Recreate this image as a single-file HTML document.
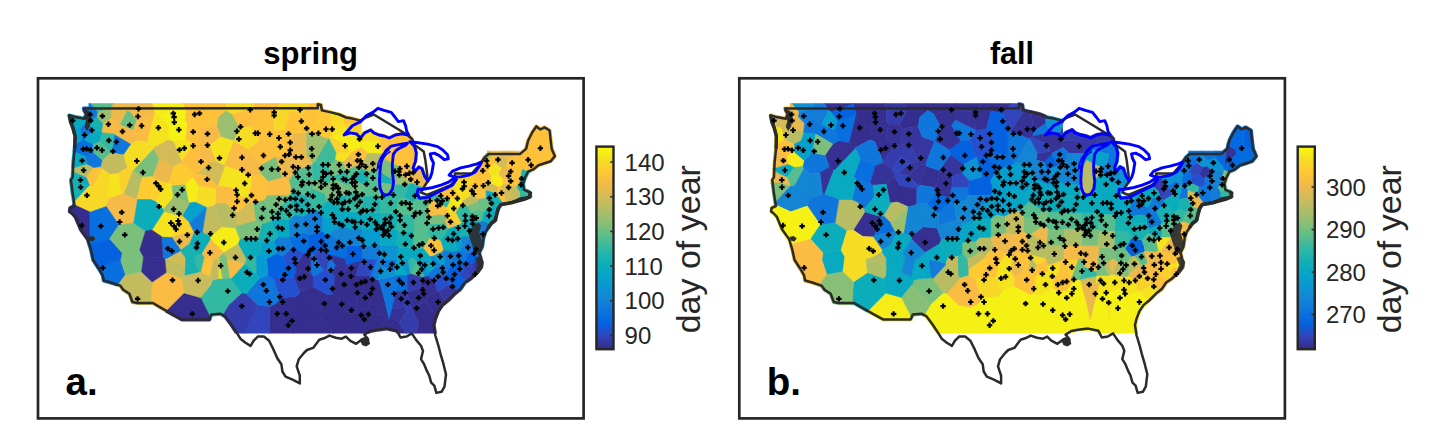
<!DOCTYPE html>
<html><head><meta charset="utf-8"><title>spring / fall</title>
<style>
html,body{margin:0;padding:0;background:#fff;}
body{width:1440px;height:439px;overflow:hidden;position:relative;font-family:"Liberation Sans",sans-serif;}
svg text{font-family:"Liberation Sans",sans-serif;}
</style></head><body>
<svg width="1440" height="439" viewBox="0 0 1440 439" style="position:absolute;left:0;top:0">
<defs><linearGradient id="pg" x1="0" y1="0" x2="0" y2="1"><stop offset="0.0000" stop-color="#f9fb0e"/><stop offset="0.0625" stop-color="#f5de21"/><stop offset="0.1250" stop-color="#fec932"/><stop offset="0.1875" stop-color="#f2b949"/><stop offset="0.2500" stop-color="#d3bb58"/><stop offset="0.3125" stop-color="#b1bd66"/><stop offset="0.3750" stop-color="#8bbf75"/><stop offset="0.4375" stop-color="#5ebe89"/><stop offset="0.5000" stop-color="#33b8a1"/><stop offset="0.5625" stop-color="#13b0b6"/><stop offset="0.6250" stop-color="#06a6c7"/><stop offset="0.6875" stop-color="#0a97d1"/><stop offset="0.7500" stop-color="#1484d4"/><stop offset="0.8125" stop-color="#0c74dd"/><stop offset="0.8750" stop-color="#0462e0"/><stop offset="0.9375" stop-color="#3243b9"/><stop offset="1.0000" stop-color="#352a87"/></linearGradient><clipPath id="usclip"><path d="M88.5,106.4 83.8,106.4 83.6,106.4 83.4,106.4 83.2,106.5 83.0,106.5 82.9,106.6 82.7,106.7 82.5,106.8 82.4,107.0 82.3,107.1 82.2,107.3 82.1,107.4 82.0,107.6 81.9,107.8 81.8,108.0 81.8,108.2 81.8,108.3 81.8,108.5 81.8,108.7 81.9,108.9 82.6,111.5 82.6,111.7 82.7,111.9 82.8,112.1 84.2,114.2 83.3,116.5 75.4,115.0 69.7,113.6 69.5,113.5 69.3,113.5 69.1,113.5 68.9,113.5 68.7,113.6 68.6,113.6 68.4,113.7 68.2,113.8 68.0,113.9 67.9,114.0 67.8,114.1 67.6,114.3 67.5,114.4 67.4,114.6 67.3,114.8 67.3,114.9 67.2,115.1 67.2,115.3 67.2,115.5 67.2,115.7 67.2,115.9 67.3,116.1 70.4,126.3 73.4,136.2 72.8,148.1 71.3,162.4 71.3,162.5 70.7,176.4 69.3,179.0 69.2,179.2 69.1,179.4 69.0,179.6 69.0,179.8 69.0,180.0 69.0,180.2 70.5,192.5 70.5,192.6 72.4,204.8 69.5,206.2 69.3,206.3 69.1,206.4 69.0,206.5 68.8,206.7 68.7,206.8 68.6,207.0 68.5,207.1 68.4,207.3 68.4,207.5 68.3,207.7 67.8,211.2 67.8,211.4 67.8,211.6 67.8,211.8 67.9,212.0 67.9,212.2 68.0,212.4 68.1,212.5 68.2,212.7 68.3,212.8 68.5,213.0 68.6,213.1 71.2,215.0 73.9,218.0 78.9,230.0 78.9,230.2 79.1,230.4 86.1,240.3 89.1,250.2 91.3,260.4 91.4,260.6 91.5,260.8 91.5,260.9 91.6,261.1 97.0,269.2 100.9,276.1 101.8,280.9 101.9,281.1 102.0,281.3 102.0,281.5 102.1,281.6 102.3,281.8 102.4,281.9 102.6,282.1 102.7,282.2 102.9,282.3 103.1,282.4 103.3,282.4 110.4,284.4 119.0,287.3 121.7,290.9 121.8,291.1 122.0,291.2 122.2,291.4 127.8,295.1 130.6,302.7 130.7,302.9 130.8,303.1 130.9,303.2 131.1,303.4 131.2,303.5 131.4,303.7 131.5,303.8 131.7,303.8 131.9,303.9 132.1,304.0 137.2,305.0 137.4,305.0 137.6,305.0 152.4,305.0 157.1,307.8 157.1,307.8 171.5,316.0 171.5,316.0 180.7,321.1 180.9,321.2 181.1,321.3 181.3,321.4 181.5,321.4 181.7,321.4 209.3,321.4 209.5,321.4 209.7,321.4 209.9,321.3 210.1,321.3 210.2,321.2 210.4,321.1 210.6,321.0 210.7,320.8 210.8,320.7 211.0,320.5 211.1,320.4 211.1,320.2 212.8,316.4 219.8,315.7 223.7,317.7 229.5,325.5 234.8,333.5 369.8,333.5 370.8,332.9 376.9,331.7 386.8,330.6 395.7,332.5 396.2,333.5 437.0,333.5 435.7,325.3 436.9,320.0 439.9,312.1 443.7,306.5 449.7,301.5 449.8,301.4 455.9,295.3 462.0,290.2 462.1,290.1 462.3,290.0 462.4,289.8 466.2,283.9 472.0,280.1 472.2,279.9 472.3,279.8 478.4,273.7 478.5,273.6 478.7,273.4 482.8,267.2 482.9,267.0 482.9,266.9 483.0,266.7 483.1,266.5 483.1,266.3 483.1,266.1 483.2,260.8 483.2,260.7 483.2,260.5 483.1,260.3 481.3,252.8 484.0,247.4 484.1,247.2 484.1,247.0 484.2,246.8 485.3,238.7 487.1,233.0 491.1,227.1 493.0,224.3 496.8,221.4 497.0,221.3 497.1,221.1 497.2,221.0 497.3,220.8 497.4,220.7 497.5,220.5 497.5,220.3 497.6,220.1 498.5,214.2 500.4,208.4 501.9,206.3 506.2,205.4 512.3,204.4 512.5,204.3 512.7,204.3 512.9,204.2 520.6,200.4 526.3,199.5 526.4,199.5 530.8,198.5 531.0,198.4 531.2,198.3 531.4,198.2 531.5,198.1 531.7,198.0 531.8,197.9 532.0,197.8 532.1,197.6 532.2,197.4 532.3,197.3 532.3,197.1 532.4,196.9 532.4,196.7 532.4,196.5 532.4,196.3 532.4,196.1 532.3,195.9 531.0,191.4 531.0,191.3 530.9,191.1 530.8,190.9 530.7,190.7 530.5,190.6 530.4,190.5 530.2,190.3 530.0,190.2 529.9,190.2 525.8,188.5 525.1,184.0 526.9,178.4 529.5,173.1 534.0,171.2 534.1,171.2 534.3,171.1 534.4,171.0 539.4,167.1 545.1,165.2 545.1,165.2 551.3,163.1 551.5,163.0 551.7,162.9 551.8,162.8 552.0,162.7 552.1,162.6 552.3,162.5 556.4,157.4 556.5,157.2 556.6,157.0 556.7,156.8 556.7,156.7 556.8,156.5 556.8,156.3 556.8,156.1 556.8,155.9 556.8,155.7 556.7,155.5 556.6,155.3 553.7,148.4 552.7,140.5 551.6,130.3 551.6,130.1 551.5,129.9 551.4,129.7 551.3,129.5 551.2,129.3 551.1,129.2 551.0,129.0 550.8,128.9 550.6,128.8 545.5,125.7 545.4,125.6 545.2,125.5 545.0,125.5 544.8,125.4 544.6,125.4 544.4,125.4 544.2,125.4 544.0,125.5 543.8,125.5 543.6,125.6 540.6,127.1 537.5,124.8 537.3,124.7 537.2,124.6 537.0,124.5 536.8,124.5 536.6,124.4 536.4,124.4 536.3,124.4 536.1,124.4 535.9,124.4 535.7,124.5 535.5,124.6 535.3,124.6 535.2,124.7 535.0,124.9 534.9,125.0 534.8,125.1 534.6,125.3 530.5,131.4 530.4,131.6 526.3,139.8 526.2,140.0 526.2,140.2 524.3,147.8 520.8,150.7 487.0,150.7 487.0,152.5 487.0,152.5 482.9,156.6 482.7,156.8 482.6,156.9 478.5,163.5 473.9,170.5 468.0,174.2 460.2,175.7 460.0,175.8 459.9,175.8 455.8,177.4 455.6,177.5 455.4,177.6 455.3,177.7 455.1,177.9 455.0,178.0 454.9,178.1 451.1,183.5 443.3,187.4 435.1,191.5 427.2,195.4 420.7,196.1 419.5,194.2 421.2,192.0 421.3,191.9 424.5,187.2 429.2,182.4 429.3,182.3 429.5,182.1 429.6,181.9 429.6,181.8 429.7,181.6 429.8,181.4 429.8,181.2 429.8,181.0 429.8,180.8 429.8,180.6 429.7,180.4 429.6,180.2 429.6,180.1 429.5,179.9 426.3,175.2 423.9,168.1 423.8,167.9 423.7,167.7 423.6,167.6 423.5,167.4 423.4,167.3 423.3,167.1 423.1,167.0 422.9,166.9 419.7,165.2 419.6,165.1 419.4,165.1 419.2,165.0 419.0,165.0 418.8,165.0 418.6,165.0 418.4,165.0 418.2,165.1 418.0,165.2 417.8,165.2 417.7,165.3 417.5,165.5 417.4,165.6 417.2,165.7 415.5,167.9 415.3,167.6 417.4,162.0 417.4,161.8 417.5,161.7 417.5,161.5 418.3,153.3 418.3,153.1 418.3,152.8 418.2,152.6 416.6,146.1 416.6,145.9 416.5,145.7 416.4,145.5 416.3,145.4 416.1,145.2 412.5,141.5 413.5,140.3 413.6,140.1 413.8,140.0 413.8,139.8 413.9,139.6 414.0,139.4 414.0,139.2 414.0,139.0 414.0,138.8 414.0,138.6 413.9,138.4 413.8,138.2 413.8,138.0 413.6,137.9 413.5,137.7 410.1,133.7 410.0,133.6 409.8,133.4 409.7,133.3 409.5,133.2 409.3,133.1 409.1,133.1 408.9,133.0 401.8,131.9 401.6,131.9 401.4,131.9 401.2,131.9 395.0,133.0 394.8,133.1 394.6,133.1 394.4,133.2 389.1,135.8 384.8,134.1 384.7,134.1 384.5,134.0 379.5,133.1 374.9,131.2 372.1,128.5 371.9,128.4 371.8,128.3 371.6,128.2 371.4,128.1 371.2,128.1 371.0,128.0 370.8,128.0 370.6,128.0 370.4,128.0 370.2,128.1 370.0,128.1 369.8,128.2 363.7,131.1 363.6,131.2 363.4,131.3 363.3,131.4 363.2,131.5 363.0,131.6 361.8,133.1 361.8,132.8 361.5,125.9 362.5,121.0 362.5,120.8 362.5,120.6 362.5,120.4 362.5,120.2 362.4,120.0 362.4,119.9 362.3,119.7 362.2,119.5 362.1,119.4 362.0,119.2 361.8,119.1 361.7,119.0 361.5,118.9 361.3,118.8 361.2,118.7 361.0,118.7 352.8,116.7 352.6,116.6 346.7,115.6 340.1,112.7 340.0,112.6 339.8,112.6 331.6,110.5 331.5,110.4 323.6,108.7 322.9,104.6 322.8,104.5 322.8,104.3 322.7,104.1 322.6,103.9 322.5,103.8 322.4,103.6 322.2,103.5 322.1,103.4 321.9,103.3 321.8,103.2 321.6,103.1 321.4,103.1 318.3,102.3 318.1,102.2 317.9,102.2 317.7,102.2 317.5,102.2 317.3,102.3 317.2,102.3 317.0,102.4 316.8,102.5 316.7,102.6 316.5,102.7 316.4,102.8 316.2,103.0 316.1,103.1 316.1,103.2 88.5,103.2Z"/></clipPath></defs>
<rect x="0" y="0" width="1440" height="439" fill="#fff"/>
<g><g clip-path="url(#usclip)"><path d="M97.9,112.4 110.7,108.8 118.4,95.2 118.4,95.0 82.9,95.0ZM100.0,140.7 92.5,144.4 92.9,152.6 102.5,160.7 110.8,152.9ZM295.2,170.3 288.6,180.9 290.2,184.9 312.7,179.3 312.7,163.8ZM346.0,169.4 345.7,170.0 351.1,180.6 355.5,179.2 361.9,168.5 361.0,166.8 356.7,165.2ZM380.2,169.3 368.2,171.6 368.2,182.3 377.9,185.3 379.5,182.7 381.2,172.3ZM312.7,179.3 290.2,184.9 290.8,192.7 306.7,196.3 312.9,188.8 312.9,179.8ZM363.7,196.4 379.5,196.4 377.9,185.3 368.2,182.3 364.0,186.2 362.7,195.2ZM396.7,212.8 398.5,214.8 413.0,214.8 413.0,201.2 404.0,197.4 398.5,198.6ZM429.6,192.3 429.5,191.8 413.0,201.2 413.0,214.8 414.0,215.7 427.0,214.1 431.0,197.9ZM414.0,215.7 414.0,230.3 427.7,232.0 429.4,228.9 430.7,223.9 429.3,216.7 427.0,214.1ZM430.0,237.9 427.7,232.0 414.0,230.3 413.0,231.2 413.0,247.6 414.2,248.7 423.7,248.7 429.2,239.7ZM470.3,216.5 470.5,218.0 479.0,222.3 482.2,221.1 483.7,212.2 478.6,208.4 471.0,212.4ZM422.8,277.4 424.3,276.6 417.9,262.8 416.6,262.5 410.8,274.0Z" fill="#55bd8e" stroke="#55bd8e" stroke-width="0.6"/><path d="M152.2,95.0 118.4,95.0 118.4,95.2 127.2,110.7 130.5,112.3 152.2,103.7ZM120.4,124.4 127.2,110.7 118.4,95.2 110.7,108.8 111.4,118.3 119.4,124.7ZM169.1,182.8 174.4,165.7 159.0,158.8 152.3,176.7 155.2,179.3 166.5,183.0ZM306.6,154.7 306.6,132.2 291.6,133.3 289.3,152.2ZM275.5,157.0 281.4,177.6 288.6,180.9 295.2,170.3 286.0,155.1ZM286.0,155.1 295.2,170.3 312.7,163.8 313.1,163.1 306.6,154.7 289.3,152.2ZM350.2,154.4 342.6,162.1 346.0,169.4 356.7,165.2ZM410.7,183.0 429.7,190.3 439.6,176.3 439.8,175.9 441.1,170.0 422.3,167.2 415.1,168.9 410.2,181.2ZM501.4,167.6 498.1,174.2 502.5,178.6 510.5,170.7 505.7,166.8ZM500.4,101.1 500.5,154.0 506.9,160.9 513.7,157.3 515.0,131.5ZM194.7,232.1 194.0,231.6 173.4,235.4 171.6,236.9 180.7,250.0 189.5,244.1Z" fill="#ecb94c" stroke="#ecb94c" stroke-width="0.6"/><path d="M182.9,95.0 152.2,95.0 152.2,103.7 155.0,114.3 160.2,116.3 182.9,104.4ZM358.7,133.3 356.6,133.7 346.1,144.2 348.9,151.8 350.2,152.9 361.5,147.3 361.5,140.6ZM361.5,147.3 367.7,153.4 383.2,153.4 379.7,140.6 361.5,140.6ZM346.1,144.2 356.6,133.7 349.8,132.4 331.0,136.5 330.7,137.1ZM497.6,187.0 501.5,185.8 503.6,184.4 502.5,178.6 498.1,174.2 491.2,175.6 490.0,183.2ZM189.7,202.9 196.2,202.1 198.8,185.6 193.3,176.9 184.9,184.3 188.3,201.5ZM223.8,252.7 238.5,243.8 240.1,239.4 235.7,228.0 222.0,226.8 209.7,236.4 210.3,239.2ZM460.0,206.2 462.8,203.4 462.8,200.2 461.1,198.2 458.5,196.1 450.7,198.6 449.7,200.5 449.7,200.9Z" fill="#f5ec18" stroke="#f5ec18" stroke-width="0.6"/><path d="M205.0,111.8 204.5,95.0 182.9,95.0 182.9,104.4 185.3,110.0ZM184.8,120.3 187.2,123.3 198.0,125.3 205.0,111.8 205.0,111.8 185.3,110.0ZM200.9,128.7 198.0,125.3 187.2,123.3 185.0,138.8 194.1,144.7 199.7,144.7 199.8,144.6ZM93.1,186.3 102.6,169.1 101.2,166.6 92.8,167.6 86.2,177.0 89.6,186.0ZM218.6,117.0 226.6,110.6 226.6,95.0 204.5,95.0 205.0,111.8 205.0,111.8ZM216.9,126.3 218.6,117.0 205.0,111.8 198.0,125.3 200.9,128.7ZM274.6,129.7 254.8,119.9 250.0,125.8 259.3,141.2 268.6,140.4 275.0,130.3ZM272.2,112.3 254.8,109.4 254.8,119.9 274.6,129.7ZM302.2,113.1 307.5,131.6 309.0,131.4 328.6,101.9 330.0,95.0 317.3,95.0ZM291.6,133.3 285.1,129.5 275.0,130.3 268.6,140.4 275.1,156.8 275.5,157.0 286.0,155.1 289.3,152.2ZM343.8,123.9 344.1,124.1 364.2,122.3 382.9,95.0 343.8,95.0ZM383.2,153.4 383.9,153.9 390.7,149.9 395.3,143.7 395.3,95.0 384.8,95.0 379.7,140.6ZM395.3,143.7 414.9,143.7 454.2,99.7 455.2,95.0 395.3,95.0ZM361.0,166.8 367.7,153.4 361.5,147.3 350.2,152.9 350.2,154.4 356.7,165.2ZM399.4,166.7 405.1,163.9 407.8,154.2 390.7,149.9 383.9,153.9 385.1,159.6ZM414.9,143.7 395.3,143.7 390.7,149.9 407.8,154.2 412.3,149.7ZM407.8,154.2 405.1,163.9 415.1,168.9 422.3,167.2 412.3,149.7ZM448.6,160.1 454.1,149.7 454.2,149.1 454.2,99.7 414.9,143.7 412.3,149.7 422.3,167.2 441.1,170.0ZM488.5,171.9 489.6,167.4 483.1,160.7 454.2,149.1 454.1,149.7 469.2,166.9 482.4,172.3ZM482.4,172.3 469.2,166.9 474.0,181.3 479.6,184.3 480.6,184.4 480.7,184.4ZM534.4,149.6 542.5,147.3 542.4,95.0 498.4,95.0 500.4,101.1 515.0,131.5 525.6,144.2ZM542.5,147.3 570.0,155.2 570.0,95.0 542.4,95.0ZM542.5,147.3 534.4,149.6 535.0,154.3 551.2,181.3 563.5,189.8 570.0,193.2 570.0,155.2ZM522.7,169.5 551.2,181.3 535.0,154.3 522.8,166.6 522.5,167.3ZM535.0,154.3 534.4,149.6 525.6,144.2 522.8,166.6ZM490.8,158.0 483.1,160.7 489.6,167.4 495.3,163.0 495.3,161.3ZM513.7,157.3 506.9,160.9 505.7,166.8 510.5,170.7 514.5,171.8 522.2,169.9 522.7,169.5 522.5,167.3ZM485.8,185.5 490.0,183.2 491.2,175.6 488.5,171.9 482.4,172.3 480.7,184.4ZM509.7,185.2 511.5,186.9 516.3,186.9 519.2,184.9 522.2,169.9 514.5,171.8ZM502.5,178.6 503.6,184.4 509.7,185.2 514.5,171.8 510.5,170.7ZM472.8,182.4 465.4,186.3 465.9,187.5 471.3,194.3ZM458.5,196.1 457.1,191.0 439.8,175.9 439.6,176.3 450.7,198.6ZM450.7,198.6 439.6,176.3 429.7,190.3 429.5,191.8 429.6,192.3 449.7,200.5ZM480.6,184.4 477.6,198.4 478.5,199.3 485.8,198.1 486.1,197.6 486.1,190.0 485.8,185.5 480.7,184.4ZM522.8,166.6 525.6,144.2 515.0,131.5 513.7,157.3 522.5,167.3ZM500.5,154.0 500.4,101.1 498.4,95.0 479.9,95.0 490.8,158.0 495.3,161.3ZM237.1,213.0 250.6,201.7 248.3,198.0 235.2,194.2 225.9,203.6ZM263.9,200.7 267.5,195.4 266.6,187.2 250.6,187.2 249.4,189.4 248.3,198.0 250.6,201.7 253.0,202.7ZM268.0,181.0 260.6,173.1 251.3,176.5 250.6,187.2 266.6,187.2ZM471.5,194.5 479.6,184.3 474.0,181.3 472.8,182.4 471.3,194.3ZM423.7,248.7 429.8,256.6 430.4,256.7 433.0,256.2 438.7,253.3 429.2,239.7ZM471.5,194.7 477.6,198.4 480.6,184.4 479.6,184.3 471.5,194.5ZM496.4,193.1 496.3,194.5 508.9,211.3 508.9,209.2 501.5,185.8 497.6,187.0ZM446.6,207.1 435.8,201.8 439.8,214.8 445.6,216.0 448.7,212.3ZM438.7,253.3 442.1,252.1 443.5,250.4 443.0,246.7 440.6,240.1 430.0,237.9 429.2,239.7ZM200.6,272.3 210.0,277.0 213.4,260.3 204.1,257.4Z" fill="#fec13a" stroke="#fec13a" stroke-width="0.6"/><path d="M80.3,128.2 87.0,122.3 71.1,95.0 55.0,95.0 55.0,121.3ZM102.6,132.7 102.2,132.1 93.1,129.4 84.0,140.3 92.5,144.4 100.0,140.7ZM85.9,155.9 68.5,149.2 55.0,152.5 55.0,166.5 70.9,169.2 87.0,164.5ZM89.6,186.0 86.2,177.0 78.1,173.5 80.0,183.1 88.7,186.6ZM486.1,190.0 486.1,197.6 496.3,194.5 496.4,193.1ZM273.5,217.7 271.1,221.1 278.1,237.4 289.0,237.4 289.4,236.9 289.4,219.7ZM342.9,210.7 330.9,217.7 339.4,227.1 345.5,227.1 347.4,211.8 346.4,210.7ZM345.5,227.1 347.3,229.2 362.8,229.2 362.8,229.2 362.8,212.8 361.8,211.8 347.4,211.8ZM380.2,245.6 380.2,245.6 396.7,245.6 398.5,231.2 396.7,229.2 380.2,229.2 380.2,229.2ZM414.2,248.7 413.0,247.6 398.5,247.6 397.0,259.6 400.6,260.9 407.9,260.9 412.8,257.9ZM416.6,262.5 417.9,262.8 427.1,260.5 429.8,256.6 423.7,248.7 414.2,248.7 412.8,257.9ZM463.3,223.0 472.4,236.4 473.0,236.6 474.4,236.1 479.0,222.3 470.5,218.0ZM407.3,275.4 400.6,260.9 397.0,259.6 396.6,259.9 394.5,271.8 395.5,275.4ZM435.4,267.5 430.4,256.7 429.8,256.6 427.1,260.5 427.0,274.5Z" fill="#07aac1" stroke="#07aac1" stroke-width="0.6"/><path d="M68.5,149.2 82.5,140.3 80.3,128.2 55.0,121.3 55.0,152.5ZM182.1,215.8 189.5,223.1 206.4,207.7 206.7,206.8 196.2,202.1 189.7,202.9ZM330.9,217.7 322.2,216.4 322.2,231.5 325.2,234.2 329.7,233.6 339.4,227.1ZM260.7,254.2 266.4,259.1 276.9,253.8 274.8,240.7 260.7,242.5ZM454.6,238.3 454.4,240.3 456.7,250.4 459.9,251.4 460.1,251.4 461.2,248.8 461.7,236.9 460.6,236.5ZM438.7,253.3 433.0,256.2 441.5,266.0 445.7,262.6 442.1,252.1Z" fill="#06a0cd" stroke="#06a0cd" stroke-width="0.6"/><path d="M87.0,122.3 88.1,122.5 97.2,116.8 97.9,112.4 82.9,95.0 71.1,95.0ZM87.0,122.3 80.3,128.2 82.5,140.3 84.0,140.3 93.1,129.4 88.1,122.5ZM123.7,155.1 131.4,144.1 114.4,134.0 111.5,152.8ZM85.9,155.9 87.0,164.5 92.8,167.6 101.2,166.6 102.5,160.7 92.9,152.6ZM161.4,236.5 162.8,257.7 164.9,259.7 167.6,258.5 180.4,251.6 180.7,250.0 171.6,236.9ZM325.2,250.2 326.6,250.9 342.4,243.5 329.7,233.6 325.2,234.2ZM464.6,264.9 465.5,264.2 467.2,253.2 460.1,251.4 459.9,251.4 458.4,263.0ZM396.6,259.9 381.8,259.9 383.0,267.1 394.5,271.8ZM529.4,256.7 474.4,236.1 473.0,236.6 471.3,252.7 478.4,256.7ZM458.4,263.0 459.9,251.4 456.7,250.4 452.8,251.5 451.0,263.0 456.9,264.0ZM433.7,279.7 442.7,274.9 440.7,267.8 435.4,267.5 427.0,274.5 426.5,275.9ZM273.6,278.4 267.6,275.6 259.5,278.0 246.0,293.9 257.4,305.3 269.4,306.9 276.2,304.2 280.8,298.2ZM323.8,270.2 313.4,253.7 310.7,253.7 310.6,273.0 313.5,277.0ZM332.5,273.3 335.7,264.8 329.3,257.2 326.6,270.0ZM378.1,279.4 377.8,279.7 387.0,295.7 395.1,291.2 395.1,276.0Z" fill="#0f77db" stroke="#0f77db" stroke-width="0.6"/><path d="M103.5,123.5 97.2,116.8 88.1,122.5 93.1,129.4 102.2,132.1ZM355.5,179.2 364.0,186.2 368.2,182.3 368.2,171.6 361.9,168.5ZM379.5,182.7 393.8,184.8 393.8,180.2 381.2,172.3ZM522.7,169.5 522.2,169.9 519.2,184.9 536.3,188.3 563.5,189.8 551.2,181.3ZM72.6,204.1 88.7,186.6 80.0,183.1 55.0,183.1 55.0,204.1ZM80.0,183.1 78.1,173.5 70.9,169.2 55.0,166.5 55.0,183.1ZM189.5,244.1 180.7,250.0 180.4,251.6 185.0,258.0 195.5,256.4 199.6,253.7ZM184.9,266.1 184.3,276.1 199.8,272.3 195.6,262.4 185.0,265.1ZM306.7,196.3 290.8,192.7 289.0,195.4 288.8,198.0 295.3,215.3 303.6,216.8 313.9,210.6ZM260.7,242.5 274.8,240.7 278.1,237.4 271.1,221.1 261.5,224.0 257.6,239.4ZM404.0,197.4 413.0,201.2 429.5,191.8 429.7,190.3 410.7,183.0 409.2,184.4ZM340.2,195.4 327.0,201.5 327.0,201.5 342.9,210.7 346.4,210.7 346.4,195.4ZM396.7,229.2 398.5,214.8 396.7,212.8 380.2,212.8 380.2,212.8 380.2,229.2ZM459.0,224.9 460.6,236.5 461.7,236.9 470.7,236.9 472.4,236.4 463.3,223.0 460.9,223.0 460.0,223.8ZM396.7,245.6 398.5,247.6 413.0,247.6 413.0,231.2 398.5,231.2ZM519.2,184.9 516.3,186.9 519.5,191.7 536.3,188.3ZM496.3,194.5 486.1,197.6 485.8,198.1 491.5,207.5 509.1,211.9 508.9,211.3ZM195.6,262.4 195.5,256.4 185.0,258.0 185.0,265.1Z" fill="#18b1b2" stroke="#18b1b2" stroke-width="0.6"/><path d="M111.4,118.3 110.7,108.8 97.9,112.4 97.2,116.8 103.5,123.5ZM233.4,141.0 234.0,140.8 240.1,128.6 232.3,113.9 226.6,110.6 218.6,117.0 216.9,126.3 221.1,136.9ZM314.9,162.6 328.7,138.5 309.0,131.4 307.5,131.6 306.6,132.2 306.6,154.7 313.1,163.1ZM393.8,184.8 393.8,184.9 409.2,184.4 410.7,183.0 410.2,181.2 399.4,173.1 393.8,180.2ZM173.4,196.5 163.0,209.0 163.6,211.7 179.1,216.4 182.1,215.8 189.7,202.9 188.3,201.5Z" fill="#9bbf6f" stroke="#9bbf6f" stroke-width="0.6"/><path d="M119.4,124.7 111.4,118.3 103.5,123.5 102.2,132.1 102.6,132.7 114.4,134.0ZM114.4,134.0 131.4,144.1 137.4,140.6 133.4,129.8 120.4,124.4 119.4,124.7 114.4,134.0ZM155.0,114.3 152.2,103.7 130.5,112.3 136.6,121.0 154.3,115.1ZM216.9,126.3 200.9,128.7 199.8,144.6 209.9,145.4 221.1,136.9ZM216.9,161.8 209.9,145.4 199.8,144.6 199.7,144.7 199.7,156.4 208.2,163.0ZM237.9,170.7 251.3,176.5 260.6,173.1 262.4,163.9 249.2,154.4 237.7,170.4ZM410.2,181.2 415.1,168.9 405.1,163.9 399.4,166.7 399.4,173.1ZM137.6,199.5 137.0,198.7 123.6,193.8 121.2,193.8 108.5,198.1 105.9,206.1 119.0,224.9 133.7,223.1ZM204.1,257.4 213.4,260.3 218.9,257.2 218.9,257.2 223.7,253.2 223.8,252.7 210.3,239.2 201.5,253.5ZM231.5,278.8 244.8,264.2 244.8,263.3 226.8,258.9 229.5,277.9Z" fill="#f6ba46" stroke="#f6ba46" stroke-width="0.6"/><path d="M136.6,121.0 130.5,112.3 127.2,110.7 120.4,124.4 133.4,129.8ZM261.5,224.0 271.1,221.1 273.5,217.7 273.2,213.6 263.9,200.7 253.0,202.7 255.5,220.3ZM347.3,185.8 348.1,193.4 362.7,195.2 364.0,186.2 355.5,179.2 351.1,180.6ZM483.7,212.2 491.5,207.5 485.8,198.1 478.5,199.3 477.8,201.4 478.6,208.4Z" fill="#6bbf83" stroke="#6bbf83" stroke-width="0.6"/><path d="M154.3,115.1 136.6,121.0 133.4,129.8 137.4,140.6 147.5,142.4ZM224.2,165.2 224.9,166.1 237.7,170.4 249.2,154.4 248.3,149.4 234.0,140.8 233.4,141.0ZM215.6,188.3 215.6,203.6 225.9,203.6 235.2,194.2 233.3,187.6 217.8,185.1 217.0,185.8ZM288.6,180.9 281.4,177.6 268.0,181.0 266.6,187.2 267.5,195.4 289.0,195.4 290.8,192.7 290.2,184.9ZM427.0,214.1 429.3,216.7 439.8,214.8 435.8,201.8 431.0,197.9ZM445.2,223.1 447.8,229.0 459.0,224.9 460.0,223.8 445.6,217.1ZM152.2,281.9 149.3,328.3 184.4,293.1 182.3,278.3 166.1,272.6Z" fill="#fabc42" stroke="#fabc42" stroke-width="0.6"/><path d="M168.6,140.0 169.4,125.5 160.2,116.3 155.0,114.3 154.3,115.1 147.5,142.4 153.9,147.7ZM185.0,138.8 173.3,141.5 181.5,161.2 194.1,144.7ZM224.2,165.2 233.4,141.0 221.1,136.9 209.9,145.4 216.9,161.8 220.1,163.9ZM236.4,182.2 237.9,170.7 237.7,170.4 224.9,166.1 217.8,185.1 233.3,187.6ZM249.4,189.4 250.6,187.2 251.3,176.5 237.9,170.7 236.4,182.2ZM344.1,124.1 343.8,123.9 332.3,131.5 331.0,136.5 349.8,132.4ZM350.2,152.9 348.9,151.8 336.0,152.8 334.8,160.1 342.6,162.1 350.2,154.4ZM498.1,174.2 501.4,167.6 495.3,163.0 489.6,167.4 488.5,171.9 491.2,175.6ZM448.6,160.1 441.1,170.0 439.8,175.9 457.1,191.0 464.9,186.1ZM173.4,235.4 179.1,216.4 163.6,211.7 151.9,230.1 161.4,236.5 171.6,236.9ZM172.0,185.3 169.1,182.8 166.5,183.0 155.8,201.8 163.0,209.0 173.4,196.5ZM108.5,198.1 121.2,193.8 118.6,172.9 109.3,173.9 107.7,196.8ZM235.2,194.2 248.3,198.0 249.4,189.4 236.4,182.2 233.3,187.6ZM455.5,212.3 457.8,210.0 460.0,206.2 449.7,200.9 446.6,207.1 448.7,212.3ZM461.1,198.2 465.9,187.5 465.4,186.3 464.9,186.1 457.1,191.0 458.5,196.1Z" fill="#f5e31e" stroke="#f5e31e" stroke-width="0.6"/><path d="M182.9,104.4 160.2,116.3 169.4,125.5 184.8,120.3 185.3,110.0ZM187.2,123.3 184.8,120.3 169.4,125.5 168.6,140.0 173.3,141.5 185.0,138.8Z" fill="#f6f115" stroke="#f6f115" stroke-width="0.6"/><path d="M111.5,152.8 114.4,134.0 114.4,134.0 102.6,132.7 100.0,140.7 110.8,152.9ZM327.6,166.1 314.9,162.6 313.1,163.1 312.7,163.8 312.7,179.3 312.9,179.8 330.1,183.2 333.5,178.6 333.5,175.7ZM333.5,178.6 347.3,185.8 351.1,180.6 345.7,170.0 333.5,175.7ZM563.5,189.8 536.3,188.3 519.5,191.7 520.5,225.4 532.1,242.5 548.3,259.9 570.0,273.3 570.0,193.2ZM199.6,253.7 195.5,256.4 195.6,262.4 199.8,272.3 200.6,272.3 204.1,257.4 201.5,253.5ZM288.8,198.0 273.2,213.6 273.5,217.7 289.4,219.7 295.3,215.3ZM325.1,193.7 312.9,188.8 306.7,196.3 313.9,210.6 318.5,211.2 327.0,201.5 327.0,201.5ZM392.7,194.2 398.5,198.6 404.0,197.4 409.2,184.4 393.8,184.9ZM449.7,200.5 429.6,192.3 431.0,197.9 435.8,201.8 446.6,207.1 449.7,200.9ZM346.4,210.7 347.4,211.8 361.8,211.8 363.7,196.4 362.7,195.2 348.1,193.4 346.4,195.4ZM380.2,212.8 396.7,212.8 398.5,198.6 392.7,194.2 380.2,197.0ZM460.9,223.0 463.3,223.0 470.5,218.0 470.3,216.5 457.8,210.0 455.5,212.3ZM413.0,231.2 414.0,230.3 414.0,215.7 413.0,214.8 398.5,214.8 396.7,229.2 398.5,231.2ZM430.7,223.9 429.4,228.9 447.4,230.4 447.8,229.0 445.2,223.1ZM460.0,206.2 457.8,210.0 470.3,216.5 471.0,212.4 467.5,206.2 462.8,203.4ZM440.6,240.1 447.4,232.4 447.4,230.4 429.4,228.9 427.7,232.0 430.0,237.9ZM200.4,297.5 215.5,327.7 229.1,305.1 210.8,284.8ZM218.9,278.6 212.5,279.9 210.8,284.8 229.1,305.1 241.8,293.6 231.5,278.8 229.5,277.9 222.7,278.3ZM246.4,258.6 244.8,263.3 244.8,264.2 256.7,274.8 256.1,256.2ZM407.9,260.9 410.1,274.1 410.8,274.0 416.6,262.5 412.8,257.9Z" fill="#33b8a1" stroke="#33b8a1" stroke-width="0.6"/><path d="M92.5,144.4 84.0,140.3 82.5,140.3 68.5,149.2 85.9,155.9 92.9,152.6ZM89.5,244.5 109.4,239.2 119.0,224.9 105.9,206.1 89.4,211.8ZM305.5,232.3 289.4,236.9 289.0,237.4 292.5,247.6 304.2,253.5 308.8,252.7 308.8,234.8ZM345.9,256.8 347.3,245.6 345.5,243.5 342.4,243.5 326.6,250.9 329.3,254.9 344.5,258.9ZM125.5,274.8 120.5,259.8 55.0,282.7 55.0,340.0 78.0,340.0ZM395.1,291.2 407.0,292.5 407.4,292.0 407.4,275.4 407.3,275.4 395.5,275.4 395.1,276.0Z" fill="#076fdf" stroke="#076fdf" stroke-width="0.6"/><path d="M92.8,167.6 87.0,164.5 70.9,169.2 78.1,173.5 86.2,177.0ZM368.2,171.6 380.2,169.3 385.1,159.6 383.9,153.9 383.2,153.4 367.7,153.4 361.0,166.8 361.9,168.5ZM479.9,95.0 455.2,95.0 454.2,99.7 454.2,149.1 483.1,160.7 490.8,158.0ZM123.6,193.8 137.0,198.7 142.4,177.2 133.7,170.1 132.6,169.9ZM237.1,213.0 225.9,203.6 215.6,203.6 213.9,205.2 222.0,226.8 235.7,228.0 237.1,225.5Z" fill="#b8bd63" stroke="#b8bd63" stroke-width="0.6"/><path d="M102.5,160.7 101.2,166.6 102.6,169.1 109.3,173.9 118.6,172.9 127.9,167.2 123.7,155.1 111.5,152.8 110.8,152.9ZM222.0,226.8 213.9,205.2 206.7,206.8 206.4,207.7 202.3,232.4 209.7,236.4ZM226.8,258.9 244.8,263.3 246.4,258.6 238.5,243.8 223.8,252.7 223.7,253.2ZM516.3,186.9 511.5,186.9 508.9,209.2 508.9,211.3 509.1,211.9 520.5,225.4 519.5,191.7ZM467.5,206.2 477.8,201.4 478.5,199.3 477.6,198.4 471.5,194.7 462.8,200.2 462.8,203.4ZM141.6,271.8 125.5,274.8 78.0,340.0 144.1,340.0 149.3,328.3 152.2,281.9ZM167.6,258.5 164.9,259.7 166.1,272.6 182.3,278.3 184.3,276.1 184.9,266.1ZM213.4,260.3 210.0,277.0 212.5,279.9 218.9,278.6 218.9,257.2Z" fill="#c3bc5f" stroke="#c3bc5f" stroke-width="0.6"/><path d="M107.7,196.8 109.3,173.9 102.6,169.1 93.1,186.3ZM283.0,99.3 289.7,111.3 302.2,113.1 317.3,95.0 283.0,95.0ZM289.7,111.3 283.0,99.3 272.2,112.3 274.6,129.7 275.0,130.3 285.1,129.5ZM72.6,204.1 89.4,211.8 105.9,206.1 108.5,198.1 107.7,196.8 93.1,186.3 89.6,186.0 88.7,186.6Z" fill="#f7d826" stroke="#f7d826" stroke-width="0.6"/><path d="M147.5,142.4 137.4,140.6 131.4,144.1 123.7,155.1 127.9,167.2 132.6,169.9 133.7,170.1 154.0,148.8 153.9,147.7ZM226.6,110.6 232.3,113.9 254.3,108.5 254.3,95.0 226.6,95.0ZM248.3,149.4 259.3,141.2 250.0,125.8 240.1,128.6 234.0,140.8ZM328.6,101.9 332.3,131.5 343.8,123.9 343.8,95.0 330.0,95.0ZM379.7,140.6 384.8,95.0 382.9,95.0 364.2,122.3 358.7,133.3 361.5,140.6ZM206.7,206.8 213.9,205.2 215.6,203.6 215.6,188.3 198.8,185.6 196.2,202.1ZM465.9,187.5 461.1,198.2 462.8,200.2 471.5,194.7 471.5,194.5 471.3,194.3ZM218.9,257.2 218.9,278.6 222.7,278.3 218.9,257.2Z" fill="#f6dc23" stroke="#f6dc23" stroke-width="0.6"/><path d="M133.7,170.1 142.4,177.2 152.3,176.7 159.0,158.8 154.0,148.8ZM275.1,156.8 262.4,163.9 260.6,173.1 268.0,181.0 281.4,177.6 275.5,157.0ZM342.6,162.1 334.8,160.1 327.6,166.1 333.5,175.7 345.7,170.0 346.0,169.4ZM393.8,180.2 399.4,173.1 399.4,166.7 385.1,159.6 380.2,169.3 381.2,172.3ZM119.0,224.9 109.4,239.2 121.7,253.1 139.8,250.0 145.6,231.1 133.7,223.1ZM184.9,184.3 172.0,185.3 173.4,196.5 188.3,201.5ZM222.7,278.3 229.5,277.9 226.8,258.9 223.7,253.2 218.9,257.2ZM261.5,224.0 255.5,220.3 237.1,225.5 235.7,228.0 240.1,239.4 257.6,239.4ZM288.8,198.0 289.0,195.4 267.5,195.4 263.9,200.7 273.2,213.6ZM340.2,195.4 330.1,183.6 325.1,193.7 327.0,201.5ZM312.9,179.8 312.9,188.8 325.1,193.7 330.1,183.6 330.1,183.2ZM330.1,183.2 330.1,183.6 340.2,195.4 346.4,195.4 348.1,193.4 347.3,185.8 333.5,178.6ZM377.9,185.3 379.5,196.4 380.2,197.0 392.7,194.2 393.8,184.9 393.8,184.8 379.5,182.7ZM478.6,208.4 477.8,201.4 467.5,206.2 471.0,212.4ZM445.6,216.0 439.8,214.8 429.3,216.7 430.7,223.9 445.2,223.1 445.6,217.1ZM120.5,259.8 125.5,274.8 141.6,271.8 143.6,257.1 139.8,250.0 121.7,253.1Z" fill="#7abf7c" stroke="#7abf7c" stroke-width="0.6"/><path d="M181.5,161.2 173.3,141.5 168.6,140.0 153.9,147.7 154.0,148.8 159.0,158.8 174.4,165.7 181.3,163.3ZM220.1,163.9 216.9,161.8 208.2,163.0 196.4,173.7 206.6,175.4ZM217.0,185.8 217.8,185.1 224.9,166.1 224.2,165.2 220.1,163.9 206.6,175.4ZM495.3,163.0 501.4,167.6 505.7,166.8 506.9,160.9 500.5,154.0 495.3,161.3ZM508.9,209.2 511.5,186.9 509.7,185.2 503.6,184.4 501.5,185.8ZM185.0,258.0 180.4,251.6 167.6,258.5 184.9,266.1 185.0,265.1ZM255.5,220.3 253.0,202.7 250.6,201.7 237.1,213.0 237.1,225.5ZM486.1,190.0 496.4,193.1 497.6,187.0 490.0,183.2 485.8,185.5Z" fill="#d3bb58" stroke="#d3bb58" stroke-width="0.6"/><path d="M193.7,174.4 190.2,169.1 181.3,163.3 174.4,165.7 169.1,182.8 172.0,185.3 184.9,184.3 193.3,176.9ZM155.2,179.3 152.3,176.7 142.4,177.2 137.0,198.7 137.6,199.5 150.7,199.5Z" fill="#fdcb30" stroke="#fdcb30" stroke-width="0.6"/><path d="M190.2,169.1 199.7,156.4 199.7,144.7 194.1,144.7 181.5,161.2 181.3,163.3ZM208.2,163.0 199.7,156.4 190.2,169.1 193.7,174.4 196.4,173.7ZM283.0,99.3 283.0,95.0 254.3,95.0 254.3,108.5 254.8,109.4 272.2,112.3ZM254.8,119.9 254.8,109.4 254.3,108.5 232.3,113.9 240.1,128.6 250.0,125.8ZM259.3,141.2 248.3,149.4 249.2,154.4 262.4,163.9 275.1,156.8 268.6,140.4ZM215.6,188.3 217.0,185.8 206.6,175.4 196.4,173.7 193.7,174.4 193.3,176.9 198.8,185.6Z" fill="#fdbe3e" stroke="#fdbe3e" stroke-width="0.6"/><path d="M306.6,132.2 307.5,131.6 302.2,113.1 289.7,111.3 285.1,129.5 291.6,133.3Z" fill="#ffc436" stroke="#ffc436" stroke-width="0.6"/><path d="M328.7,138.5 328.8,138.5 330.7,137.1 331.0,136.5 332.3,131.5 328.6,101.9 309.0,131.4Z" fill="#fec733" stroke="#fec733" stroke-width="0.6"/><path d="M364.2,122.3 344.1,124.1 349.8,132.4 356.6,133.7 358.7,133.3ZM336.0,152.8 348.9,151.8 346.1,144.2 330.7,137.1 328.8,138.5ZM469.2,166.9 454.1,149.7 448.6,160.1 464.9,186.1 465.4,186.3 472.8,182.4 474.0,181.3ZM189.5,223.1 182.1,215.8 179.1,216.4 173.4,235.4 194.0,231.6ZM166.5,183.0 155.2,179.3 150.7,199.5 155.8,201.8ZM127.9,167.2 118.6,172.9 121.2,193.8 123.6,193.8 132.6,169.9ZM460.0,223.8 460.9,223.0 455.5,212.3 448.7,212.3 445.6,216.0 445.6,217.1Z" fill="#fad12b" stroke="#fad12b" stroke-width="0.6"/><path d="M314.9,162.6 327.6,166.1 334.8,160.1 336.0,152.8 328.8,138.5 328.7,138.5Z" fill="#3fba99" stroke="#3fba99" stroke-width="0.6"/><path d="M89.5,244.5 89.4,211.8 72.6,204.1 55.0,204.1 55.0,274.9ZM346.4,271.3 353.3,276.7 356.2,275.4 359.4,263.8 346.4,267.0ZM162.8,257.7 143.6,257.1 141.6,271.8 152.2,281.9 166.1,272.6 164.9,259.7ZM149.3,328.3 144.1,340.0 214.6,340.0 215.5,327.7 200.4,297.5 184.4,293.1ZM297.1,295.9 280.8,298.2 276.2,304.2 294.2,329.5 306.3,314.3ZM338.1,295.9 352.0,288.9 353.3,276.7 346.4,271.3 334.4,275.5 332.4,294.0ZM269.4,306.9 269.4,340.0 292.3,340.0 294.2,329.5 276.2,304.2ZM300.3,291.6 297.1,295.9 306.3,314.3 318.6,314.3 328.3,295.0 312.7,286.5ZM346.8,313.3 353.1,313.3 357.9,311.2 357.9,291.8 352.0,288.9 338.1,295.9ZM333.3,332.6 318.6,314.3 306.3,314.3 294.2,329.5 292.3,340.0 333.6,340.0ZM368.7,275.4 356.2,275.4 353.3,276.7 352.0,288.9 357.9,291.8 365.0,291.8 373.4,279.3 370.4,276.3ZM427.4,296.4 426.1,302.2 434.0,313.3 455.5,316.8 438.7,291.6 436.9,291.0ZM365.0,291.8 371.4,299.5 386.2,297.6 387.0,295.7 377.8,279.7 373.4,279.3ZM366.4,311.2 368.4,313.3 386.1,315.8 387.8,314.6 389.2,309.0 386.2,297.6 371.4,299.5ZM386.1,315.8 377.0,340.0 410.1,340.0 399.3,322.8 387.8,314.6Z" fill="#362e8e" stroke="#362e8e" stroke-width="0.6"/><path d="M89.5,244.5 55.0,274.9 55.0,282.7 120.5,259.8 121.7,253.1 109.4,239.2ZM322.2,231.5 308.8,234.8 308.8,252.7 310.7,253.7 313.4,253.7 325.2,250.2 325.2,234.2ZM276.9,253.8 266.4,259.1 267.6,269.8 283.8,258.0 283.4,256.6ZM362.8,258.7 362.8,245.6 347.3,245.6 345.9,256.8 362.1,259.0ZM451.0,263.0 449.6,263.5 449.6,267.8 456.7,273.7 456.7,273.7 456.9,264.0ZM473.2,263.7 478.4,256.7 471.3,252.7 467.2,253.2 465.5,264.2ZM449.6,267.8 444.4,275.4 449.0,278.7 456.7,273.7ZM295.4,266.8 286.2,263.8 275.4,277.4 294.2,277.4 296.4,269.5ZM283.8,258.0 267.6,269.8 267.6,275.6 273.6,278.4 275.4,277.4 286.2,263.8ZM344.5,259.0 346.2,265.5 360.9,260.8 362.1,259.0 345.9,256.8 344.5,258.9ZM456.7,273.7 459.4,274.6 464.9,266.5 464.6,264.9 458.4,263.0 456.9,264.0ZM456.7,273.7 449.0,278.7 449.9,284.9 485.5,308.7 470.2,284.2 459.4,274.6 456.7,273.7Z" fill="#0462e1" stroke="#0462e1" stroke-width="0.6"/><path d="M163.6,211.7 163.0,209.0 155.8,201.8 150.7,199.5 137.6,199.5 133.7,223.1 145.6,231.1 151.9,230.1ZM210.3,239.2 209.7,236.4 202.3,232.4 194.7,232.1 189.5,244.1 199.6,253.7 201.5,253.5ZM327.0,201.5 318.5,211.2 322.2,216.4 330.9,217.7 342.9,210.7ZM240.1,239.4 238.5,243.8 246.4,258.6 256.1,256.2 260.7,254.2 260.7,242.5 257.6,239.4ZM380.2,229.2 380.2,229.2 380.2,212.8 362.8,212.8 362.8,229.2ZM443.0,246.7 454.4,240.3 454.6,238.3 447.4,232.4 440.6,240.1ZM532.1,242.5 520.5,225.4 509.1,211.9 491.5,207.5 483.7,212.2 482.2,221.1ZM447.4,230.4 447.4,232.4 454.6,238.3 460.6,236.5 459.0,224.9 447.8,229.0ZM443.5,250.4 452.8,251.5 456.7,250.4 454.4,240.3 443.0,246.7ZM231.5,278.8 241.8,293.6 246.0,293.9 259.5,278.0 256.7,274.8 244.8,264.2Z" fill="#0cadbb" stroke="#0cadbb" stroke-width="0.6"/><path d="M151.9,230.1 145.6,231.1 139.8,250.0 143.6,257.1 162.8,257.7 161.4,236.5ZM328.3,295.0 318.6,314.3 333.3,332.6 346.8,313.3 338.1,295.9 332.4,294.0ZM353.1,313.3 346.8,313.3 333.3,332.6 333.6,340.0 365.5,340.0ZM357.9,291.8 357.9,311.2 366.4,311.2 371.4,299.5 365.0,291.8ZM353.1,313.3 365.5,340.0 368.5,340.0 368.4,313.3 366.4,311.2 357.9,311.2ZM411.2,306.5 418.8,324.2 434.0,313.3 426.1,302.2ZM386.1,315.8 368.4,313.3 368.5,340.0 377.0,340.0ZM455.5,316.8 434.0,313.3 418.8,324.2 413.5,340.0 501.8,340.0Z" fill="#352c8b" stroke="#352c8b" stroke-width="0.6"/><path d="M206.4,207.7 189.5,223.1 194.0,231.6 194.7,232.1 202.3,232.4ZM322.2,216.4 318.5,211.2 313.9,210.6 303.6,216.8 305.5,232.3 308.8,234.8 322.2,231.5ZM292.5,247.6 289.0,237.4 278.1,237.4 274.8,240.7 276.9,253.8 283.4,256.6ZM364.9,259.9 376.5,259.9 380.2,258.5 380.2,245.6 380.2,245.6 362.8,245.6 362.8,245.6 362.8,258.7ZM445.7,262.6 449.6,263.5 451.0,263.0 452.8,251.5 443.5,250.4 442.1,252.1ZM474.4,236.1 529.4,256.7 548.3,259.9 532.1,242.5 482.2,221.1 479.0,222.3ZM471.3,252.7 473.0,236.6 472.4,236.4 470.7,236.9 461.2,248.8 460.1,251.4 467.2,253.2ZM381.8,259.9 380.2,258.5 376.5,259.9 370.4,276.3 373.4,279.3 377.8,279.7 378.1,279.4 383.0,267.1ZM441.5,266.0 440.7,267.8 442.7,274.9 444.4,275.4 449.6,267.8 449.6,263.5 445.7,262.6Z" fill="#127cd8" stroke="#127cd8" stroke-width="0.6"/><path d="M295.3,215.3 289.4,219.7 289.4,236.9 305.5,232.3 303.6,216.8ZM329.7,233.6 342.4,243.5 345.5,243.5 347.3,229.2 345.5,227.1 339.4,227.1ZM362.8,245.6 362.8,229.2 347.3,229.2 345.5,243.5 347.3,245.6 362.8,245.6ZM461.2,248.8 470.7,236.9 461.7,236.9ZM433.0,256.2 430.4,256.7 435.4,267.5 440.7,267.8 441.5,266.0Z" fill="#1484d4" stroke="#1484d4" stroke-width="0.6"/><path d="M256.7,274.8 259.5,278.0 267.6,275.6 267.6,269.8 266.4,259.1 260.7,254.2 256.1,256.2ZM362.8,229.2 362.8,245.6 380.2,245.6 380.2,229.2 362.8,229.2Z" fill="#079cd0" stroke="#079cd0" stroke-width="0.6"/><path d="M304.2,253.5 292.5,247.6 283.4,256.6 283.8,258.0 286.2,263.8 295.4,266.8ZM376.5,259.9 364.9,259.9 368.7,275.4 370.4,276.3ZM294.2,277.4 275.4,277.4 273.6,278.4 280.8,298.2 297.1,295.9 300.3,291.6ZM323.8,270.2 313.5,277.0 312.7,286.5 328.3,295.0 332.4,294.0 334.4,275.5 332.5,273.3 326.6,270.0ZM433.7,279.7 436.9,291.0 438.7,291.6 449.9,284.9 449.0,278.7 444.4,275.4 442.7,274.9Z" fill="#254fce" stroke="#254fce" stroke-width="0.6"/><path d="M310.7,253.7 308.8,252.7 304.2,253.5 295.4,266.8 296.4,269.5 310.6,273.0ZM424.3,276.6 422.8,277.4 419.6,288.6 427.4,296.4 436.9,291.0 433.7,279.7 426.5,275.9ZM419.6,288.6 407.4,292.0 407.0,292.5 409.9,305.5 410.5,306.1 411.2,306.5 426.1,302.2 427.4,296.4Z" fill="#363093" stroke="#363093" stroke-width="0.6"/><path d="M329.3,257.2 329.3,254.9 326.6,250.9 325.2,250.2 313.4,253.7 323.8,270.2 326.6,270.0ZM464.9,266.5 469.0,271.2 473.2,266.3 473.2,263.7 465.5,264.2 464.6,264.9ZM470.2,284.2 469.0,271.2 464.9,266.5 459.4,274.6ZM269.4,306.9 257.4,305.3 241.9,340.0 269.4,340.0ZM356.2,275.4 368.7,275.4 364.9,259.9 362.8,258.7 362.1,259.0 360.9,260.8 359.4,263.8Z" fill="#3145bc" stroke="#3145bc" stroke-width="0.6"/><path d="M335.7,264.8 344.5,259.0 344.5,258.9 329.3,254.9 329.3,257.2ZM334.4,275.5 346.4,271.3 346.4,267.0 346.2,265.5 344.5,259.0 335.7,264.8 332.5,273.3ZM473.2,266.3 531.2,340.0 570.0,340.0 570.0,273.3 548.3,259.9 529.4,256.7 478.4,256.7 473.2,263.7ZM310.6,273.0 296.4,269.5 294.2,277.4 300.3,291.6 312.7,286.5 313.5,277.0ZM359.4,263.8 360.9,260.8 346.2,265.5 346.4,267.0ZM387.8,314.6 399.3,322.8 410.5,306.1 409.9,305.5 389.2,309.0Z" fill="#363398" stroke="#363398" stroke-width="0.6"/><path d="M361.8,211.8 362.8,212.8 380.2,212.8 380.2,212.8 380.2,197.0 379.5,196.4 363.7,196.4Z" fill="#22b4ac" stroke="#22b4ac" stroke-width="0.6"/><path d="M396.6,259.9 397.0,259.6 398.5,247.6 396.7,245.6 380.2,245.6 380.2,258.5 381.8,259.9ZM400.6,260.9 407.3,275.4 407.4,275.4 410.1,274.1 407.9,260.9ZM427.0,274.5 427.1,260.5 417.9,262.8 424.3,276.6 426.5,275.9ZM395.5,275.4 394.5,271.8 383.0,267.1 378.1,279.4 395.1,276.0Z" fill="#0d93d2" stroke="#0d93d2" stroke-width="0.6"/><path d="M182.3,278.3 184.4,293.1 200.4,297.5 210.8,284.8 212.5,279.9 210.0,277.0 200.6,272.3 199.8,272.3 184.3,276.1Z" fill="#c8bc5d" stroke="#c8bc5d" stroke-width="0.6"/><path d="M215.5,327.7 214.6,340.0 241.9,340.0 257.4,305.3 246.0,293.9 241.8,293.6 229.1,305.1ZM473.2,266.3 469.0,271.2 470.2,284.2 485.5,308.7 514.2,340.0 531.2,340.0ZM407.4,275.4 407.4,292.0 419.6,288.6 422.8,277.4 410.8,274.0 410.1,274.1ZM410.1,340.0 413.5,340.0 418.8,324.2 411.2,306.5 410.5,306.1 399.3,322.8Z" fill="#353cab" stroke="#353cab" stroke-width="0.6"/><path d="M386.2,297.6 389.2,309.0 409.9,305.5 407.0,292.5 395.1,291.2 387.0,295.7Z" fill="#3639a4" stroke="#3639a4" stroke-width="0.6"/><path d="M455.5,316.8 501.8,340.0 514.2,340.0 485.5,308.7 449.9,284.9 438.7,291.6Z" fill="#36369e" stroke="#36369e" stroke-width="0.6"/><path d="M379.5,283.0 398.5,283.0 394.0,300.0 389.0,320.5 385.0,303.0Z" fill="#0f77db"/><path d="M403.0,300.0 411.0,300.0 408.0,322.0Z" fill="#3340b3"/></g><path d="M83.8,108.4 317.8,108.3 317.8,104.2 320.9,105.0 321.9,110.4 331.1,112.4 339.3,114.5 346.1,117.5 352.3,118.6 360.5,120.6 366.0,117.5 373.8,114.5 407.6,135.0 412.0,139.0 414.7,144.9 423.7,151.5 425.3,159.7 427.0,172.8 427.8,181.0 424.0,187.0 421.0,192.5 427.0,194.9 450.7,185.1 455.5,180.0 454.8,173.6 472.0,173.6 475.3,169.5 480.5,164.5 484.3,158.0 488.4,154.1 519.9,154.1 526.1,148.9 528.1,140.7 532.2,132.5 536.3,126.4 540.4,129.5 544.5,127.4 549.6,130.5 550.7,140.7 551.7,148.9 554.8,156.1 550.7,161.2 544.5,163.3 538.4,165.3 533.2,169.4 528.1,171.5 525.0,177.6 523.0,183.8 524.0,189.9 529.1,192.0 530.4,196.5 526.0,197.5 520.0,198.5 512.0,202.4 505.8,203.4 500.7,204.5 498.6,207.5 496.6,213.7 495.6,219.8 491.5,222.9 489.4,226.0 485.3,232.1 483.3,238.3 482.2,246.5 479.2,252.6 481.2,260.8 481.1,266.1 477.0,272.3 470.9,278.4 464.8,282.5 460.7,288.7 454.5,293.8 448.4,300.0 442.2,305.1 438.1,311.2 435.0,319.4 433.7,325.2 435.3,335.5 438.4,345.7 440.5,353.9 443.5,364.2 446.0,374.4 444.5,386.7 441.5,391.8 436.4,392.9 434.3,385.7 431.2,382.6 429.2,375.5 427.1,371.4 424.1,364.2 421.0,359.1 423.0,350.9 421.0,345.7 415.9,339.6 411.8,333.4 406.6,336.5 400.5,337.5 398.4,333.4 397.1,330.7 386.9,328.6 376.6,329.7 370.0,331.0 364.3,334.6 368.0,339.0 366.4,343.8 360.2,340.7 356.1,343.8 350.0,340.7 345.9,336.6 341.8,338.7 335.7,337.7 329.5,335.6 325.4,337.7 319.3,339.7 313.1,347.9 307.0,350.0 303.9,353.0 298.8,359.2 296.7,366.4 299.8,375.6 299.8,383.4 292.6,379.7 285.5,376.6 282.4,371.5 281.4,364.3 277.3,358.2 273.2,348.9 269.1,340.7 263.9,336.6 257.8,336.6 253.7,340.7 250.6,345.9 245.5,342.8 240.4,338.7 237.3,333.6 231.1,324.3 225.0,316.1 220.2,313.7 211.4,314.5 209.3,319.4 181.7,319.4 172.5,314.3 158.1,306.1 153.0,303.0 137.6,303.0 132.5,302.0 129.4,293.8 123.3,289.7 120.2,285.6 111.0,282.5 103.8,280.5 102.8,275.4 98.7,268.2 93.3,260.0 91.0,249.7 87.9,239.4 80.7,229.2 75.6,216.9 72.5,213.5 69.8,211.5 70.3,208.0 74.6,206.0 72.5,192.3 71.0,180.0 72.7,177.0 73.3,162.6 74.8,148.3 75.4,136.0 72.3,125.7 69.2,115.5 75.0,117.0 84.5,118.8 86.5,114.0 84.5,111.0 83.8,108.4Z" fill="none" stroke="#2b2b2b" stroke-width="2.5" stroke-linejoin="round"/><path d="M84,109 L89,111 L90.5,118 L90,126 L87,131 L84.5,127 L86,121 L85,114Z" fill="#2e2e2e"/><path d="M467.9,231.5 L474.1,225.4 L478.2,222.3 L481.2,225.4 L479.2,232.5 L481.2,238.7 L482.3,245.9 L481.2,251 L478.2,254.1 L474.1,251 L472,244.8 L470,238.7Z" fill="#2e2e2e" opacity="0.92"/><path d="M475,258 L480,256 L484,262 L483,268 L478.5,274 L475,272 L478,265Z" fill="#2e2e2e" opacity="0.9"/><path d="M88,237 L92.5,236 L95.5,238.5 L93,241.5 L89.5,240.5Z" fill="#2b2b2b"/><path d="M389.5,149.5 L384,153 L380.5,158 L378,164 L377.5,168.5 L380.3,165 L382.8,159 L386.3,154.3 L390.5,151.3" fill="none" stroke="#0000ff" stroke-width="1.6"/><path d="M530.4,193 L529.5,197 L524,199.3 L512,202.6 L501,204.6 L498.3,208.5 L496.5,215 L495,220.5 L491,223.5 L488.5,227" fill="none" stroke="#2b2b2b" stroke-width="3.6" stroke-linejoin="round" stroke-linecap="round"/><path d="M69.5,116 L70.5,122 L73,128 L75,136 L74.8,148" fill="none" stroke="#2b2b2b" stroke-width="3.4" stroke-linejoin="round" stroke-linecap="round"/><path d="M360,339 L364,337 L369,339 L370,344 L366,346.5 L362,345Z" fill="#2b2b2b"/><path d="M344.1,135.0 352.3,125.7 360.5,121.6 366.6,115.5 372.8,112.4 377.9,108.3 384.1,110.4 391.2,112.4 395.3,117.5 398.4,121.6 403.5,120.6 405.6,125.7 406.6,130.9 408.6,135.0 401.5,133.9 395.3,135.0 389.2,138.0 384.1,136.0 378.9,135.0 373.8,132.9 370.7,130.0 364.6,132.9 360.5,138.0 356.4,133.9 350.2,132.9Z" fill="none" stroke="#0000ff" stroke-width="2.9" stroke-linejoin="round"/><path d="M407.6,143.2 401.5,144.2 391.2,146.2 386.1,150.3 383.0,156.5 381.0,162.6 380.0,170.8 379.5,180.0 380.0,188.0 382.0,193.0 385.3,195.4 389.5,194.0 392.5,189.0 393.5,182.0 392.5,173.0 392.3,164.7 393.3,154.4 396.0,150.5 399.4,148.3 405.6,145.2Z" fill="none" stroke="#0000ff" stroke-width="2.9" stroke-linejoin="round"/><path d="M409.8,141.6 416.3,142.5 427.8,144.1 437.6,146.6 442.5,149.8 447.5,154.8 448.3,158.9 444.2,159.7 439.3,155.6 434.3,153.1 430.2,153.9 431.1,158.0 433.5,163.0 432.7,167.9 431.9,172.8 430.2,177.7 427.8,181.0 424.5,176.1 422.0,168.7 418.8,167.0 415.5,171.1 413.0,167.9 415.5,161.3 416.3,153.1 414.7,146.6Z" fill="none" stroke="#0000ff" stroke-width="2.9" stroke-linejoin="round"/><path d="M417.1,194.1 418.0,189.2 422.9,189.2 432.7,187.5 440.9,185.1 449.1,181.8 454.8,177.7 456.5,179.3 452.4,185.1 444.2,189.2 436.0,193.3 427.8,197.4 419.6,198.2Z" fill="none" stroke="#0000ff" stroke-width="2.9" stroke-linejoin="round"/><path d="M449.1,175.2 452.4,171.1 460.6,167.9 468.8,166.2 477.0,163.8 481.1,162.1 479.4,166.2 475.3,172.0 468.8,175.2 460.6,176.9 454.0,176.9Z" fill="none" stroke="#0000ff" stroke-width="2.9" stroke-linejoin="round"/><path d="M99.7,116.1h5.4M102.4,113.4v5.4M105.7,124.3h5.4M108.4,121.6v5.4M127.0,125.1h5.4M129.7,122.4v5.4M119.8,131.5h5.4M122.5,128.8v5.4M138.9,125.7h5.4M141.6,123.0v5.4M135.2,116.5h5.4M137.9,113.8v5.4M135.8,108.9h5.4M138.5,106.2v5.4M155.7,127.8h5.4M158.4,125.1v5.4M170.6,113.4h5.4M173.3,110.7v5.4M171.4,117.1h5.4M174.1,114.4v5.4M171.6,122.3h5.4M174.3,119.6v5.4M176.2,129.8h5.4M178.9,127.1v5.4M191.9,114.5h5.4M194.6,111.8v5.4M196.8,113.4h5.4M199.5,110.7v5.4M190.5,131.9h5.4M193.2,129.2v5.4M204.8,133.9h5.4M207.5,131.2v5.4M113.7,141.7h5.4M116.4,139.0v5.4M106.1,140.5h5.4M108.8,137.8v5.4M94.2,147.9h5.4M96.9,145.2v5.4M99.3,150.3h5.4M102.0,147.6v5.4M80.5,149.3h5.4M83.2,146.6v5.4M83.9,148.9h5.4M86.6,146.2v5.4M88.0,150.3h5.4M90.7,147.6v5.4M79.4,160.6h5.4M82.1,157.9v5.4M80.9,170.2h5.4M83.6,167.5v5.4M77.8,180.0h5.4M80.5,177.3v5.4M110.2,151.4h5.4M112.9,148.7v5.4M134.1,161.0h5.4M136.8,158.3v5.4M140.3,172.5h5.4M143.0,169.8v5.4M176.8,149.9h5.4M179.5,147.2v5.4M181.7,148.3h5.4M184.4,145.6v5.4M190.5,145.8h5.4M193.2,143.1v5.4M204.8,145.2h5.4M207.5,142.5v5.4M198.3,161.6h5.4M201.0,158.9v5.4M205.9,167.7h5.4M208.6,165.0v5.4M204.4,179.4h5.4M207.1,176.7v5.4M153.2,183.1h5.4M155.9,180.4v5.4M81.9,135.0h5.4M84.6,132.3v5.4M89.1,130.2h5.4M91.8,127.5v5.4M88.0,120.6h5.4M90.7,117.9v5.4M87.6,114.5h5.4M90.3,111.8v5.4M70.0,120.6h5.4M72.7,117.9v5.4M237.9,126.8h5.4M240.6,124.1v5.4M234.2,131.3h5.4M236.9,128.6v5.4M252.6,133.3h5.4M255.3,130.6v5.4M255.3,133.3h5.4M258.0,130.6v5.4M236.2,139.1h5.4M238.9,136.4v5.4M216.8,158.1h5.4M219.5,155.4v5.4M267.0,134.3h5.4M269.7,131.6v5.4M271.5,112.4h5.4M274.2,109.7v5.4M271.5,115.5h5.4M274.2,112.8v5.4M298.7,121.2h5.4M301.4,118.5v5.4M303.9,128.4h5.4M306.6,125.7v5.4M309.4,133.9h5.4M312.1,131.2v5.4M315.7,133.3h5.4M318.4,130.6v5.4M323.3,129.2h5.4M326.0,126.5v5.4M329.5,129.2h5.4M332.2,126.5v5.4M239.3,157.5h5.4M242.0,154.8v5.4M260.8,155.5h5.4M263.5,152.8v5.4M239.3,169.8h5.4M242.0,167.1v5.4M245.5,174.9h5.4M248.2,172.2v5.4M258.8,168.4h5.4M261.5,165.7v5.4M276.2,138.0h5.4M278.9,135.3v5.4M285.8,133.9h5.4M288.5,131.2v5.4M287.5,142.5h5.4M290.2,139.8v5.4M277.6,146.8h5.4M280.3,144.1v5.4M287.5,150.3h5.4M290.2,147.6v5.4M282.3,155.5h5.4M285.0,152.8v5.4M286.4,154.4h5.4M289.1,151.7v5.4M309.0,148.7h5.4M311.7,146.0v5.4M309.6,155.9h5.4M312.3,153.2v5.4M342.4,145.8h5.4M345.1,143.1v5.4M269.0,169.2h5.4M271.7,166.5v5.4M275.6,169.2h5.4M278.3,166.5v5.4M278.9,161.6h5.4M281.6,158.9v5.4M282.3,173.9h5.4M285.0,171.2v5.4M293.2,157.1h5.4M295.9,154.4v5.4M298.7,157.1h5.4M301.4,154.4v5.4M290.5,166.7h5.4M293.2,164.0v5.4M295.3,167.7h5.4M298.0,165.0v5.4M292.6,172.5h5.4M295.3,169.8v5.4M295.3,177.0h5.4M298.0,174.3v5.4M305.5,167.7h5.4M308.2,165.0v5.4M306.5,174.5h5.4M309.2,171.8v5.4M242.0,183.5h5.4M244.7,180.8v5.4M247.5,109.8h5.4M250.2,107.1v5.4M297.3,109.8h5.4M300.0,107.1v5.4M320.3,164.7h5.4M323.0,162.0v5.4M325.4,164.7h5.4M328.1,162.0v5.4M320.3,171.8h5.4M323.0,169.1v5.4M323.3,173.9h5.4M326.0,171.2v5.4M328.4,172.9h5.4M331.1,170.2v5.4M336.6,164.7h5.4M339.3,162.0v5.4M337.7,171.8h5.4M340.4,169.1v5.4M320.3,177.0h5.4M323.0,174.3v5.4M330.5,179.0h5.4M333.2,176.3v5.4M340.7,179.0h5.4M343.4,176.3v5.4M312.1,183.1h5.4M314.8,180.4v5.4M299.8,182.1h5.4M302.5,179.4v5.4M318.2,181.1h5.4M320.9,178.4v5.4M375.2,146.2h5.4M377.9,143.5v5.4M355.7,154.4h5.4M358.4,151.7v5.4M354.7,160.6h5.4M357.4,157.9v5.4M357.8,161.0h5.4M360.5,158.3v5.4M362.9,166.7h5.4M365.6,164.0v5.4M370.1,163.6h5.4M372.8,160.9v5.4M371.1,170.4h5.4M373.8,167.7v5.4M343.4,180.0h5.4M346.1,177.3v5.4M349.6,179.0h5.4M352.3,176.3v5.4M352.7,182.1h5.4M355.4,179.4v5.4M363.9,173.9h5.4M366.6,171.2v5.4M363.9,184.1h5.4M366.6,181.4v5.4M370.1,178.0h5.4M372.8,175.3v5.4M396.3,171.8h5.4M399.0,169.1v5.4M402.9,174.9h5.4M405.6,172.2v5.4M408.0,179.4h5.4M410.7,176.7v5.4M484.8,165.7h5.4M487.5,163.0v5.4M480.1,170.8h5.4M482.8,168.1v5.4M461.3,182.1h5.4M464.0,179.4v5.4M356.8,139.1h5.4M359.5,136.4v5.4M537.7,148.3h5.4M540.4,145.6v5.4M525.4,159.8h5.4M528.1,157.1v5.4M528.5,165.3h5.4M531.2,162.6v5.4M509.4,162.9h5.4M512.1,160.2v5.4M495.3,159.6h5.4M498.0,156.9v5.4M484.0,160.8h5.4M486.7,158.1v5.4M508.0,171.5h5.4M510.7,168.8v5.4M505.9,176.0h5.4M508.6,173.3v5.4M508.0,181.1h5.4M510.7,178.4v5.4M505.9,187.5h5.4M508.6,184.8v5.4M518.9,178.6h5.4M521.6,175.9v5.4M518.2,184.8h5.4M520.9,182.1v5.4M498.8,193.0h5.4M501.5,190.3v5.4M485.5,182.7h5.4M488.2,180.0v5.4M480.7,185.8h5.4M483.4,183.1v5.4M472.5,186.2h5.4M475.2,183.5v5.4M469.1,190.9h5.4M471.8,188.2v5.4M471.1,194.0h5.4M473.8,191.3v5.4M461.5,186.2h5.4M464.2,183.5v5.4M459.8,188.9h5.4M462.5,186.2v5.4M450.0,193.0h5.4M452.7,190.3v5.4M444.5,198.5h5.4M447.2,195.8v5.4M454.7,198.5h5.4M457.4,195.8v5.4M78.0,187.2h5.4M80.7,184.5v5.4M84.2,195.4h5.4M86.9,192.7v5.4M79.1,225.5h5.4M81.8,222.8v5.4M98.1,226.1h5.4M100.8,223.4v5.4M119.0,212.4h5.4M121.7,209.7v5.4M117.0,222.0h5.4M119.7,219.3v5.4M122.1,234.9h5.4M124.8,232.2v5.4M100.2,267.7h5.4M102.9,265.0v5.4M156.3,206.6h5.4M159.0,203.9v5.4M170.9,209.3h5.4M173.6,206.6v5.4M176.4,213.8h5.4M179.1,211.1v5.4M155.9,186.1h5.4M158.6,183.4v5.4M158.0,189.2h5.4M160.7,186.5v5.4M179.5,189.8h5.4M182.2,187.1v5.4M174.8,194.8h5.4M177.5,192.1v5.4M168.2,223.0h5.4M170.9,220.3v5.4M171.3,226.1h5.4M174.0,223.4v5.4M173.3,229.2h5.4M176.0,226.5v5.4M175.4,221.0h5.4M178.1,218.3v5.4M176.4,224.1h5.4M179.1,221.4v5.4M176.8,241.5h5.4M179.5,238.8v5.4M165.1,248.6h5.4M167.8,245.9v5.4M169.2,251.1h5.4M171.9,248.4v5.4M184.6,234.9h5.4M187.3,232.2v5.4M194.4,232.3h5.4M197.1,229.6v5.4M194.8,243.5h5.4M197.5,240.8v5.4M193.8,247.6h5.4M196.5,244.9v5.4M233.4,190.2h5.4M236.1,187.5v5.4M234.4,194.8h5.4M237.1,192.1v5.4M234.4,201.5h5.4M237.1,198.8v5.4M231.4,208.1h5.4M234.1,205.4v5.4M229.9,215.2h5.4M232.6,212.5v5.4M243.7,200.5h5.4M246.4,197.8v5.4M248.8,195.4h5.4M251.5,192.7v5.4M252.9,201.9h5.4M255.6,199.2v5.4M207.8,233.7h5.4M210.5,231.0v5.4M221.1,242.5h5.4M223.8,239.8v5.4M207.2,252.7h5.4M209.9,250.0v5.4M232.8,257.5h5.4M235.5,254.8v5.4M218.0,265.7h5.4M220.7,263.0v5.4M247.8,257.5h5.4M250.5,254.8v5.4M254.5,229.2h5.4M257.2,226.5v5.4M243.7,238.8h5.4M246.4,236.1v5.4M248.4,238.8h5.4M251.1,236.1v5.4M252.9,238.8h5.4M255.6,236.1v5.4M260.5,208.7h5.4M263.2,206.0v5.4M259.0,217.9h5.4M261.7,215.2v5.4M267.2,233.7h5.4M269.9,231.0v5.4M264.1,240.5h5.4M266.8,237.8v5.4M266.2,251.1h5.4M268.9,248.4v5.4M276.4,198.9h5.4M279.1,196.2v5.4M282.6,199.9h5.4M285.3,197.2v5.4M287.7,198.4h5.4M290.4,195.7v5.4M292.8,198.9h5.4M295.5,196.2v5.4M290.8,191.3h5.4M293.5,188.6v5.4M295.5,193.3h5.4M298.2,190.6v5.4M299.0,185.1h5.4M301.7,182.4v5.4M306.2,183.1h5.4M308.9,180.4v5.4M318.4,187.2h5.4M321.1,184.5v5.4M322.5,184.1h5.4M325.2,181.4v5.4M330.7,185.1h5.4M333.4,182.4v5.4M335.9,192.3h5.4M338.6,189.6v5.4M327.7,199.5h5.4M330.4,196.8v5.4M305.1,194.3h5.4M307.8,191.6v5.4M310.3,196.4h5.4M313.0,193.7v5.4M273.4,204.6h5.4M276.1,201.9v5.4M269.3,211.8h5.4M272.0,209.1v5.4M275.4,213.8h5.4M278.1,211.1v5.4M270.3,217.9h5.4M273.0,215.2v5.4M275.4,217.9h5.4M278.1,215.2v5.4M278.5,208.7h5.4M281.2,206.0v5.4M283.6,210.7h5.4M286.3,208.0v5.4M287.7,206.6h5.4M290.4,203.9v5.4M293.9,205.6h5.4M296.6,202.9v5.4M299.0,200.5h5.4M301.7,197.8v5.4M293.9,209.7h5.4M296.6,207.0v5.4M299.0,210.7h5.4M301.7,208.0v5.4M305.1,204.6h5.4M307.8,201.9v5.4M306.2,210.7h5.4M308.9,208.0v5.4M310.3,210.7h5.4M313.0,208.0v5.4M316.4,206.6h5.4M319.1,203.9v5.4M318.4,212.8h5.4M321.1,210.1v5.4M334.8,202.5h5.4M337.5,199.8v5.4M312.3,218.9h5.4M315.0,216.2v5.4M286.7,214.8h5.4M289.4,212.1v5.4M293.9,225.5h5.4M296.6,222.8v5.4M303.1,224.1h5.4M305.8,221.4v5.4M314.3,227.1h5.4M317.0,224.4v5.4M314.3,231.2h5.4M317.0,228.5v5.4M331.8,222.0h5.4M334.5,219.3v5.4M275.4,227.5h5.4M278.1,224.8v5.4M279.5,228.8h5.4M282.2,226.1v5.4M294.3,234.9h5.4M297.0,232.2v5.4M301.0,241.1h5.4M303.7,238.4v5.4M324.6,236.4h5.4M327.3,233.7v5.4M318.4,241.5h5.4M321.1,238.8v5.4M322.5,245.6h5.4M325.2,242.9v5.4M335.9,242.5h5.4M338.6,239.8v5.4M275.8,248.6h5.4M278.5,245.9v5.4M279.9,248.6h5.4M282.6,245.9v5.4M290.8,249.7h5.4M293.5,247.0v5.4M307.2,250.7h5.4M309.9,248.0v5.4M310.3,248.6h5.4M313.0,245.9v5.4M318.4,249.7h5.4M321.1,247.0v5.4M323.6,250.7h5.4M326.3,248.0v5.4M305.1,254.8h5.4M307.8,252.1v5.4M291.8,258.9h5.4M294.5,256.2v5.4M292.8,263.0h5.4M295.5,260.3v5.4M311.3,258.9h5.4M314.0,256.2v5.4M326.6,257.9h5.4M329.3,255.2v5.4M285.7,268.1h5.4M288.4,265.4v5.4M314.3,265.0h5.4M317.0,262.3v5.4M434.5,200.4h5.4M437.2,197.7v5.4M437.5,204.5h5.4M440.2,201.8v5.4M460.1,205.5h5.4M462.8,202.8v5.4M444.7,215.7h5.4M447.4,213.0v5.4M447.8,221.9h5.4M450.5,219.2v5.4M462.5,215.7h5.4M465.2,213.0v5.4M469.7,216.4h5.4M472.4,213.7v5.4M486.7,209.6h5.4M489.4,206.9v5.4M488.8,203.4h5.4M491.5,200.7v5.4M486.7,198.3h5.4M489.4,195.6v5.4M492.5,194.8h5.4M495.2,192.1v5.4M486.3,215.7h5.4M489.0,213.0v5.4M462.1,226.0h5.4M464.8,223.3v5.4M455.6,228.0h5.4M458.3,225.3v5.4M450.9,233.8h5.4M453.6,231.1v5.4M440.6,227.4h5.4M443.3,224.7v5.4M435.9,228.0h5.4M438.6,225.3v5.4M430.4,229.1h5.4M433.1,226.4v5.4M445.3,239.3h5.4M448.0,236.6v5.4M449.8,240.3h5.4M452.5,237.6v5.4M455.0,238.7h5.4M457.7,236.0v5.4M480.2,234.2h5.4M482.9,231.5v5.4M465.2,247.5h5.4M467.9,244.8v5.4M431.4,250.2h5.4M434.1,247.5v5.4M437.5,256.7h5.4M440.2,254.0v5.4M447.8,256.3h5.4M450.5,253.6v5.4M457.0,262.5h5.4M459.7,259.8v5.4M463.2,263.9h5.4M465.9,261.2v5.4M430.4,263.9h5.4M433.1,261.2v5.4M439.6,268.0h5.4M442.3,265.3v5.4M450.3,264.9h5.4M453.0,262.2v5.4M457.0,269.0h5.4M459.7,266.3v5.4M456.0,255.7h5.4M458.7,253.0v5.4M134.9,298.9h5.4M137.6,296.2v5.4M169.8,280.1h5.4M172.5,277.4v5.4M195.4,280.5h5.4M198.1,277.8v5.4M189.6,313.9h5.4M192.3,311.2v5.4M225.1,291.1h5.4M227.8,288.4v5.4M244.2,272.3h5.4M246.9,269.6v5.4M246.8,273.9h5.4M249.5,271.2v5.4M239.1,306.1h5.4M241.8,303.4v5.4M260.6,284.6h5.4M263.3,281.9v5.4M263.7,290.7h5.4M266.4,288.0v5.4M266.7,302.0h5.4M269.4,299.3v5.4M282.1,274.8h5.4M284.8,272.1v5.4M280.0,279.9h5.4M282.7,277.2v5.4M277.0,296.9h5.4M279.7,294.2v5.4M280.0,302.0h5.4M282.7,299.3v5.4M274.5,313.7h5.4M277.2,311.0v5.4M283.5,313.7h5.4M286.2,311.0v5.4M289.3,320.9h5.4M292.0,318.2v5.4M285.6,325.2h5.4M288.3,322.5v5.4M297.1,278.4h5.4M299.8,275.7v5.4M301.6,276.8h5.4M304.3,274.1v5.4M305.3,268.6h5.4M308.0,265.9v5.4M322.7,279.9h5.4M325.4,277.2v5.4M338.4,273.9h5.4M341.1,271.2v5.4M348.7,268.2h5.4M351.4,265.5v5.4M348.3,276.4h5.4M351.0,273.7v5.4M341.5,284.6h5.4M344.2,281.9v5.4M329.8,288.7h5.4M332.5,286.0v5.4M353.8,284.6h5.4M356.5,281.9v5.4M354.8,292.8h5.4M357.5,290.1v5.4M321.6,303.6h5.4M324.3,300.9v5.4M339.1,304.1h5.4M341.8,301.4v5.4M348.7,310.2h5.4M351.4,307.5v5.4M328.2,270.2h5.4M330.9,267.5v5.4M361.6,262.0h5.4M364.3,259.3v5.4M367.8,267.2h5.4M370.5,264.5v5.4M378.0,271.3h5.4M380.7,268.6v5.4M380.1,262.0h5.4M382.8,259.3v5.4M387.3,269.2h5.4M390.0,266.5v5.4M394.4,267.2h5.4M397.1,264.5v5.4M389.3,264.1h5.4M392.0,261.4v5.4M399.6,263.1h5.4M402.3,260.4v5.4M358.6,282.5h5.4M361.3,279.8v5.4M362.7,281.5h5.4M365.4,278.8v5.4M369.8,279.5h5.4M372.5,276.8v5.4M362.7,297.9h5.4M365.4,295.2v5.4M367.8,293.8h5.4M370.5,291.1v5.4M369.8,288.7h5.4M372.5,286.0v5.4M358.6,315.3h5.4M361.3,312.6v5.4M365.7,314.3h5.4M368.4,311.6v5.4M361.6,319.4h5.4M364.3,316.7v5.4M385.2,284.6h5.4M387.9,281.9v5.4M396.5,280.5h5.4M399.2,277.8v5.4M399.6,283.6h5.4M402.3,280.9v5.4M391.4,293.8h5.4M394.1,291.1v5.4M402.2,292.8h5.4M404.9,290.1v5.4M398.5,298.9h5.4M401.2,296.2v5.4M404.7,302.6h5.4M407.4,299.9v5.4M413.9,308.2h5.4M416.6,305.5v5.4M415.9,297.9h5.4M418.6,295.2v5.4M420.0,289.7h5.4M422.7,287.0v5.4M421.1,293.8h5.4M423.8,291.1v5.4M410.8,282.5h5.4M413.5,279.8v5.4M415.9,273.3h5.4M418.6,270.6v5.4M419.0,269.2h5.4M421.7,266.5v5.4M422.1,265.1h5.4M424.8,262.4v5.4M417.0,263.1h5.4M419.7,260.4v5.4M440.5,272.3h5.4M443.2,269.6v5.4M435.4,276.4h5.4M438.1,273.7v5.4M431.3,280.5h5.4M434.0,277.8v5.4M425.2,282.5h5.4M427.9,279.8v5.4M420.0,280.5h5.4M422.7,277.8v5.4M443.6,278.4h5.4M446.3,275.7v5.4M449.8,279.5h5.4M452.5,276.8v5.4M451.8,274.3h5.4M454.5,271.6v5.4M472.3,274.3h5.4M475.0,271.6v5.4M449.8,286.6h5.4M452.5,283.9v5.4M435.4,302.0h5.4M438.1,299.3v5.4M336.5,223.7h5.4M339.2,221.0v5.4M372.7,189.2h5.4M375.4,186.5v5.4M371.8,245.2h5.4M374.5,242.5v5.4M334.0,247.5h5.4M336.7,244.8v5.4M343.7,192.7h5.4M346.4,190.0v5.4M393.2,211.6h5.4M395.9,208.9v5.4M335.6,188.4h5.4M338.3,185.7v5.4M397.3,215.6h5.4M400.0,212.9v5.4M387.9,217.5h5.4M390.6,214.8v5.4M408.7,235.7h5.4M411.4,233.0v5.4M386.7,222.9h5.4M389.4,220.2v5.4M344.5,220.2h5.4M347.2,217.5v5.4M388.7,226.9h5.4M391.4,224.2v5.4M357.8,212.5h5.4M360.5,209.8v5.4M331.6,218.2h5.4M334.3,215.5v5.4M342.2,202.3h5.4M344.9,199.6v5.4M374.2,224.7h5.4M376.9,222.0v5.4M411.2,247.9h5.4M413.9,245.2v5.4M346.9,201.2h5.4M349.6,198.5v5.4M377.8,227.6h5.4M380.5,224.9v5.4M329.7,215.0h5.4M332.4,212.3v5.4M380.8,229.7h5.4M383.5,227.0v5.4M345.5,209.2h5.4M348.2,206.5v5.4M329.3,195.2h5.4M332.0,192.5v5.4M390.7,195.0h5.4M393.4,192.3v5.4M364.0,210.9h5.4M366.7,208.2v5.4M339.5,209.4h5.4M342.2,206.7v5.4M412.2,195.9h5.4M414.9,193.2v5.4M424.4,223.1h5.4M427.1,220.4v5.4M398.9,203.3h5.4M401.6,200.6v5.4M407.2,208.4h5.4M409.9,205.7v5.4M352.0,222.3h5.4M354.7,219.6v5.4M424.8,211.0h5.4M427.5,208.3v5.4M352.0,198.6h5.4M354.7,195.9v5.4M347.2,242.4h5.4M349.9,239.7v5.4M346.3,193.4h5.4M349.0,190.7v5.4M419.8,243.7h5.4M422.5,241.0v5.4M364.3,224.6h5.4M367.0,221.9v5.4M416.5,245.1h5.4M419.2,242.4v5.4M354.5,205.7h5.4M357.2,203.0v5.4M387.9,203.2h5.4M390.6,200.5v5.4M382.5,222.7h5.4M385.2,220.0v5.4M373.3,197.5h5.4M376.0,194.8v5.4M401.8,225.2h5.4M404.5,222.5v5.4M381.1,225.1h5.4M383.8,222.4v5.4M339.9,225.5h5.4M342.6,222.8v5.4M373.6,229.3h5.4M376.3,226.6v5.4M380.5,235.3h5.4M383.2,232.6v5.4M382.6,219.4h5.4M385.3,216.7v5.4M400.9,232.9h5.4M403.6,230.2v5.4M417.6,255.6h5.4M420.3,252.9v5.4M428.3,245.6h5.4M431.0,242.9v5.4M372.5,222.2h5.4M375.2,219.5v5.4M339.8,203.7h5.4M342.5,201.0v5.4M407.2,204.0h5.4M409.9,201.3v5.4M386.4,235.8h5.4M389.1,233.1v5.4M353.1,192.1h5.4M355.8,189.4v5.4M334.3,198.9h5.4M337.0,196.2v5.4M359.8,240.2h5.4M362.5,237.5v5.4M379.3,197.2h5.4M382.0,194.5v5.4M331.1,202.5h5.4M333.8,199.8v5.4M376.8,253.2h5.4M379.5,250.5v5.4M411.2,216.0h5.4M413.9,213.3v5.4M412.8,213.1h5.4M415.5,210.4v5.4M398.1,256.7h5.4M400.8,254.0v5.4M369.8,209.7h5.4M372.5,207.0v5.4M354.9,196.1h5.4M357.6,193.4v5.4M357.5,201.9h5.4M360.2,199.2v5.4M360.3,210.4h5.4M363.0,207.7v5.4M367.5,219.1h5.4M370.2,216.4v5.4M349.4,221.4h5.4M352.1,218.7v5.4M333.5,185.7h5.4M336.2,183.0v5.4M352.6,227.3h5.4M355.3,224.6v5.4M417.2,212.8h5.4M419.9,210.1v5.4M402.7,244.1h5.4M405.4,241.4v5.4M352.3,186.3h5.4M355.0,183.6v5.4M385.2,230.5h5.4M387.9,227.8v5.4M397.4,220.2h5.4M400.1,217.5v5.4M382.8,232.8h5.4M385.5,230.1v5.4M403.0,202.7h5.4M405.7,200.0v5.4M355.9,238.0h5.4M358.6,235.3v5.4M337.0,194.9h5.4M339.7,192.2v5.4M330.5,188.5h5.4M333.2,185.8v5.4M358.4,222.2h5.4M361.1,219.5v5.4M426.1,217.3h5.4M428.8,214.6v5.4M350.3,254.0h5.4M353.0,251.3v5.4M381.7,254.5h5.4M384.4,251.8v5.4M359.5,194.4h5.4M362.2,191.7v5.4M360.9,246.2h5.4M363.6,243.5v5.4M372.1,204.4h5.4M374.8,201.7v5.4M339.5,245.8h5.4M342.2,243.1v5.4M422.9,202.5h5.4M425.6,199.8v5.4M473.3,249.4h5.4M476.0,246.7v5.4M466.7,230.7h5.4M469.4,228.0v5.4M471.3,253.6h5.4M474.0,250.9v5.4M431.6,238.2h5.4M434.3,235.5v5.4M344.3,171.8h5.4M347.0,169.1v5.4M356.2,167.4h5.4M358.9,164.7v5.4M351.6,176.4h5.4M354.3,173.7v5.4M353.8,173.9h5.4M356.5,171.2v5.4M359.0,164.2h5.4M361.7,161.5v5.4M346.2,165.2h5.4M348.9,162.5v5.4M349.4,182.7h5.4M352.1,180.0v5.4M392.1,171.2h5.4M394.8,168.5v5.4M397.2,168.8h5.4M399.9,166.1v5.4M406.7,173.3h5.4M409.4,170.6v5.4M410.6,172.5h5.4M413.3,169.8v5.4M404.1,166.2h5.4M406.8,163.5v5.4M402.0,184.4h5.4M404.7,181.7v5.4M396.7,175.1h5.4M399.4,172.4v5.4M414.3,182.3h5.4M417.0,179.6v5.4M438.1,195.8h5.4M440.8,193.1v5.4M439.7,201.0h5.4M442.4,198.3v5.4M469.7,219.9h5.4M472.4,217.2v5.4M462.8,220.8h5.4M465.5,218.1v5.4M451.0,208.5h5.4M453.7,205.8v5.4M427.3,200.7h5.4M430.0,198.0v5.4M473.6,218.0h5.4M476.3,215.3v5.4M470.1,223.9h5.4M472.8,221.2v5.4M435.0,205.9h5.4M437.7,203.2v5.4" fill="none" stroke="#000" stroke-width="2.1"/></g>
<g transform="translate(701.3,0)"><g clip-path="url(#usclip)"><path d="M97.9,112.4 110.7,108.8 118.4,95.2 118.4,95.0 82.9,95.0ZM364.2,122.3 344.1,124.1 349.8,132.4 356.6,133.7 358.7,133.3ZM275.1,156.8 262.4,163.9 260.6,173.1 268.0,181.0 281.4,177.6 275.5,157.0ZM343.8,123.9 344.1,124.1 364.2,122.3 382.9,95.0 343.8,95.0ZM346.0,169.4 345.7,170.0 351.1,180.6 355.5,179.2 361.9,168.5 361.0,166.8 356.7,165.2ZM410.7,183.0 429.7,190.3 439.6,176.3 439.8,175.9 441.1,170.0 422.3,167.2 415.1,168.9 410.2,181.2ZM482.4,172.3 469.2,166.9 474.0,181.3 479.6,184.3 480.6,184.4 480.7,184.4ZM469.2,166.9 454.1,149.7 448.6,160.1 464.9,186.1 465.4,186.3 472.8,182.4 474.0,181.3ZM495.3,163.0 501.4,167.6 505.7,166.8 506.9,160.9 500.5,154.0 495.3,161.3ZM513.7,157.3 506.9,160.9 505.7,166.8 510.5,170.7 514.5,171.8 522.2,169.9 522.7,169.5 522.5,167.3Z" fill="#0d93d2" stroke="#0d93d2" stroke-width="0.6"/><path d="M152.2,95.0 118.4,95.0 118.4,95.2 127.2,110.7 130.5,112.3 152.2,103.7ZM187.2,123.3 184.8,120.3 169.4,125.5 168.6,140.0 173.3,141.5 185.0,138.8ZM147.5,142.4 137.4,140.6 131.4,144.1 123.7,155.1 127.9,167.2 132.6,169.9 133.7,170.1 154.0,148.8 153.9,147.7ZM185.0,138.8 173.3,141.5 181.5,161.2 194.1,144.7ZM254.8,119.9 254.8,109.4 254.3,108.5 232.3,113.9 240.1,128.6 250.0,125.8ZM289.7,111.3 283.0,99.3 272.2,112.3 274.6,129.7 275.0,130.3 285.1,129.5ZM328.6,101.9 332.3,131.5 343.8,123.9 343.8,95.0 330.0,95.0ZM236.4,182.2 237.9,170.7 237.7,170.4 224.9,166.1 217.8,185.1 233.3,187.6ZM173.4,235.4 179.1,216.4 163.6,211.7 151.9,230.1 161.4,236.5 171.6,236.9ZM223.8,252.7 238.5,243.8 240.1,239.4 235.7,228.0 222.0,226.8 209.7,236.4 210.3,239.2Z" fill="#363093" stroke="#363093" stroke-width="0.6"/><path d="M182.9,95.0 152.2,95.0 152.2,103.7 155.0,114.3 160.2,116.3 182.9,104.4ZM168.6,140.0 169.4,125.5 160.2,116.3 155.0,114.3 154.3,115.1 147.5,142.4 153.9,147.7ZM182.9,104.4 160.2,116.3 169.4,125.5 184.8,120.3 185.3,110.0ZM218.6,117.0 226.6,110.6 226.6,95.0 204.5,95.0 205.0,111.8 205.0,111.8ZM226.6,110.6 232.3,113.9 254.3,108.5 254.3,95.0 226.6,95.0ZM283.0,99.3 283.0,95.0 254.3,95.0 254.3,108.5 254.8,109.4 272.2,112.3ZM283.0,99.3 289.7,111.3 302.2,113.1 317.3,95.0 283.0,95.0ZM216.9,126.3 218.6,117.0 205.0,111.8 198.0,125.3 200.9,128.7ZM189.7,202.9 196.2,202.1 198.8,185.6 193.3,176.9 184.9,184.3 188.3,201.5ZM206.7,206.8 213.9,205.2 215.6,203.6 215.6,188.3 198.8,185.6 196.2,202.1Z" fill="#362e8e" stroke="#362e8e" stroke-width="0.6"/><path d="M205.0,111.8 204.5,95.0 182.9,95.0 182.9,104.4 185.3,110.0ZM216.9,126.3 200.9,128.7 199.8,144.6 209.9,145.4 221.1,136.9ZM220.1,163.9 216.9,161.8 208.2,163.0 196.4,173.7 206.6,175.4ZM224.2,165.2 233.4,141.0 221.1,136.9 209.9,145.4 216.9,161.8 220.1,163.9ZM237.9,170.7 251.3,176.5 260.6,173.1 262.4,163.9 249.2,154.4 237.7,170.4ZM361.5,147.3 367.7,153.4 383.2,153.4 379.7,140.6 361.5,140.6Z" fill="#36369e" stroke="#36369e" stroke-width="0.6"/><path d="M80.3,128.2 87.0,122.3 71.1,95.0 55.0,95.0 55.0,121.3ZM87.0,122.3 80.3,128.2 82.5,140.3 84.0,140.3 93.1,129.4 88.1,122.5ZM486.1,190.0 486.1,197.6 496.3,194.5 496.4,193.1ZM378.1,279.4 377.8,279.7 387.0,295.7 395.1,291.2 395.1,276.0Z" fill="#d3bb58" stroke="#d3bb58" stroke-width="0.6"/><path d="M68.5,149.2 82.5,140.3 80.3,128.2 55.0,121.3 55.0,152.5ZM310.7,253.7 308.8,252.7 304.2,253.5 295.4,266.8 296.4,269.5 310.6,273.0ZM461.2,248.8 470.7,236.9 461.7,236.9ZM346.4,271.3 353.3,276.7 356.2,275.4 359.4,263.8 346.4,267.0ZM464.9,266.5 469.0,271.2 473.2,266.3 473.2,263.7 465.5,264.2 464.6,264.9ZM454.6,238.3 454.4,240.3 456.7,250.4 459.9,251.4 460.1,251.4 461.2,248.8 461.7,236.9 460.6,236.5ZM473.2,266.3 531.2,340.0 570.0,340.0 570.0,273.3 548.3,259.9 529.4,256.7 478.4,256.7 473.2,263.7ZM310.6,273.0 296.4,269.5 294.2,277.4 300.3,291.6 312.7,286.5 313.5,277.0ZM338.1,295.9 352.0,288.9 353.3,276.7 346.4,271.3 334.4,275.5 332.4,294.0ZM395.1,291.2 407.0,292.5 407.4,292.0 407.4,275.4 407.3,275.4 395.5,275.4 395.1,276.0ZM407.4,275.4 407.4,292.0 419.6,288.6 422.8,277.4 410.8,274.0 410.1,274.1ZM424.3,276.6 422.8,277.4 419.6,288.6 427.4,296.4 436.9,291.0 433.7,279.7 426.5,275.9ZM455.5,316.8 501.8,340.0 514.2,340.0 485.5,308.7 449.9,284.9 438.7,291.6Z" fill="#f5e31e" stroke="#f5e31e" stroke-width="0.6"/><path d="M87.0,122.3 88.1,122.5 97.2,116.8 97.9,112.4 82.9,95.0 71.1,95.0ZM89.6,186.0 86.2,177.0 78.1,173.5 80.0,183.1 88.7,186.6ZM80.0,183.1 78.1,173.5 70.9,169.2 55.0,166.5 55.0,183.1ZM305.5,232.3 289.4,236.9 289.0,237.4 292.5,247.6 304.2,253.5 308.8,252.7 308.8,234.8ZM329.7,233.6 342.4,243.5 345.5,243.5 347.3,229.2 345.5,227.1 339.4,227.1ZM396.6,259.9 397.0,259.6 398.5,247.6 396.7,245.6 380.2,245.6 380.2,258.5 381.8,259.9ZM445.7,262.6 449.6,263.5 451.0,263.0 452.8,251.5 443.5,250.4 442.1,252.1ZM496.3,194.5 486.1,197.6 485.8,198.1 491.5,207.5 509.1,211.9 508.9,211.3ZM471.3,252.7 473.0,236.6 472.4,236.4 470.7,236.9 461.2,248.8 460.1,251.4 467.2,253.2ZM529.4,256.7 474.4,236.1 473.0,236.6 471.3,252.7 478.4,256.7ZM458.4,263.0 459.9,251.4 456.7,250.4 452.8,251.5 451.0,263.0 456.9,264.0ZM433.7,279.7 442.7,274.9 440.7,267.8 435.4,267.5 427.0,274.5 426.5,275.9ZM323.8,270.2 313.4,253.7 310.7,253.7 310.6,273.0 313.5,277.0ZM407.9,260.9 410.1,274.1 410.8,274.0 416.6,262.5 412.8,257.9Z" fill="#ecb94c" stroke="#ecb94c" stroke-width="0.6"/><path d="M103.5,123.5 97.2,116.8 88.1,122.5 93.1,129.4 102.2,132.1Z" fill="#e2b951" stroke="#e2b951" stroke-width="0.6"/><path d="M102.6,132.7 102.2,132.1 93.1,129.4 84.0,140.3 92.5,144.4 100.0,140.7ZM393.8,180.2 399.4,173.1 399.4,166.7 385.1,159.6 380.2,169.3 381.2,172.3ZM379.5,182.7 393.8,184.8 393.8,180.2 381.2,172.3ZM163.6,211.7 163.0,209.0 155.8,201.8 150.7,199.5 137.6,199.5 133.7,223.1 145.6,231.1 151.9,230.1ZM182.1,215.8 189.5,223.1 206.4,207.7 206.7,206.8 196.2,202.1 189.7,202.9ZM185.0,258.0 180.4,251.6 167.6,258.5 184.9,266.1 185.0,265.1ZM292.5,247.6 289.0,237.4 278.1,237.4 274.8,240.7 276.9,253.8 283.4,256.6ZM325.2,250.2 326.6,250.9 342.4,243.5 329.7,233.6 325.2,234.2ZM377.9,185.3 379.5,196.4 380.2,197.0 392.7,194.2 393.8,184.9 393.8,184.8 379.5,182.7ZM345.9,256.8 347.3,245.6 345.5,243.5 342.4,243.5 326.6,250.9 329.3,254.9 344.5,258.9ZM362.8,258.7 362.8,245.6 347.3,245.6 345.9,256.8 362.1,259.0ZM400.6,260.9 407.3,275.4 407.4,275.4 410.1,274.1 407.9,260.9ZM231.5,278.8 241.8,293.6 246.0,293.9 259.5,278.0 256.7,274.8 244.8,264.2ZM332.5,273.3 335.7,264.8 329.3,257.2 326.6,270.0ZM344.5,259.0 346.2,265.5 360.9,260.8 362.1,259.0 345.9,256.8 344.5,258.9ZM422.8,277.4 424.3,276.6 417.9,262.8 416.6,262.5 410.8,274.0ZM435.4,267.5 430.4,256.7 429.8,256.6 427.1,260.5 427.0,274.5Z" fill="#b8bd63" stroke="#b8bd63" stroke-width="0.6"/><path d="M111.4,118.3 110.7,108.8 97.9,112.4 97.2,116.8 103.5,123.5ZM120.4,124.4 127.2,110.7 118.4,95.2 110.7,108.8 111.4,118.3 119.4,124.7ZM333.5,178.6 347.3,185.8 351.1,180.6 345.7,170.0 333.5,175.7ZM410.2,181.2 415.1,168.9 405.1,163.9 399.4,166.7 399.4,173.1ZM479.9,95.0 455.2,95.0 454.2,99.7 454.2,149.1 483.1,160.7 490.8,158.0ZM455.5,212.3 457.8,210.0 460.0,206.2 449.7,200.9 446.6,207.1 448.7,212.3ZM516.3,186.9 511.5,186.9 508.9,209.2 508.9,211.3 509.1,211.9 520.5,225.4 519.5,191.7ZM231.5,278.8 244.8,264.2 244.8,263.3 226.8,258.9 229.5,277.9Z" fill="#127cd8" stroke="#127cd8" stroke-width="0.6"/><path d="M119.4,124.7 111.4,118.3 103.5,123.5 102.2,132.1 102.6,132.7 114.4,134.0ZM114.4,134.0 131.4,144.1 137.4,140.6 133.4,129.8 120.4,124.4 119.4,124.7 114.4,134.0ZM102.5,160.7 101.2,166.6 102.6,169.1 109.3,173.9 118.6,172.9 127.9,167.2 123.7,155.1 111.5,152.8 110.8,152.9ZM181.5,161.2 173.3,141.5 168.6,140.0 153.9,147.7 154.0,148.8 159.0,158.8 174.4,165.7 181.3,163.3ZM233.4,141.0 234.0,140.8 240.1,128.6 232.3,113.9 226.6,110.6 218.6,117.0 216.9,126.3 221.1,136.9ZM274.6,129.7 254.8,119.9 250.0,125.8 259.3,141.2 268.6,140.4 275.0,130.3ZM224.2,165.2 224.9,166.1 237.7,170.4 249.2,154.4 248.3,149.4 234.0,140.8 233.4,141.0ZM314.9,162.6 328.7,138.5 309.0,131.4 307.5,131.6 306.6,132.2 306.6,154.7 313.1,163.1ZM344.1,124.1 343.8,123.9 332.3,131.5 331.0,136.5 349.8,132.4ZM361.0,166.8 367.7,153.4 361.5,147.3 350.2,152.9 350.2,154.4 356.7,165.2ZM414.9,143.7 395.3,143.7 390.7,149.9 407.8,154.2 412.3,149.7ZM407.8,154.2 405.1,163.9 415.1,168.9 422.3,167.2 412.3,149.7ZM448.6,160.1 454.1,149.7 454.2,149.1 454.2,99.7 414.9,143.7 412.3,149.7 422.3,167.2 441.1,170.0ZM488.5,171.9 489.6,167.4 483.1,160.7 454.2,149.1 454.1,149.7 469.2,166.9 482.4,172.3ZM502.5,178.6 503.6,184.4 509.7,185.2 514.5,171.8 510.5,170.7ZM472.8,182.4 465.4,186.3 465.9,187.5 471.3,194.3ZM508.9,209.2 511.5,186.9 509.7,185.2 503.6,184.4 501.5,185.8ZM480.6,184.4 477.6,198.4 478.5,199.3 485.8,198.1 486.1,197.6 486.1,190.0 485.8,185.5 480.7,184.4ZM500.4,101.1 500.5,154.0 506.9,160.9 513.7,157.3 515.0,131.5ZM500.5,154.0 500.4,101.1 498.4,95.0 479.9,95.0 490.8,158.0 495.3,161.3ZM137.6,199.5 137.0,198.7 123.6,193.8 121.2,193.8 108.5,198.1 105.9,206.1 119.0,224.9 133.7,223.1ZM166.5,183.0 155.2,179.3 150.7,199.5 155.8,201.8ZM172.0,185.3 169.1,182.8 166.5,183.0 155.8,201.8 163.0,209.0 173.4,196.5ZM215.6,188.3 215.6,203.6 225.9,203.6 235.2,194.2 233.3,187.6 217.8,185.1 217.0,185.8ZM263.9,200.7 267.5,195.4 266.6,187.2 250.6,187.2 249.4,189.4 248.3,198.0 250.6,201.7 253.0,202.7ZM255.5,220.3 253.0,202.7 250.6,201.7 237.1,213.0 237.1,225.5ZM471.5,194.5 479.6,184.3 474.0,181.3 472.8,182.4 471.3,194.3ZM427.0,214.1 429.3,216.7 439.8,214.8 435.8,201.8 431.0,197.9ZM460.0,223.8 460.9,223.0 455.5,212.3 448.7,212.3 445.6,216.0 445.6,217.1ZM496.4,193.1 496.3,194.5 508.9,211.3 508.9,209.2 501.5,185.8 497.6,187.0ZM460.0,206.2 462.8,203.4 462.8,200.2 461.1,198.2 458.5,196.1 450.7,198.6 449.7,200.5 449.7,200.9ZM446.6,207.1 435.8,201.8 439.8,214.8 445.6,216.0 448.7,212.3ZM445.2,223.1 447.8,229.0 459.0,224.9 460.0,223.8 445.6,217.1Z" fill="#0f77db" stroke="#0f77db" stroke-width="0.6"/><path d="M136.6,121.0 130.5,112.3 127.2,110.7 120.4,124.4 133.4,129.8ZM111.5,152.8 114.4,134.0 114.4,134.0 102.6,132.7 100.0,140.7 110.8,152.9ZM100.0,140.7 92.5,144.4 92.9,152.6 102.5,160.7 110.8,152.9ZM295.2,170.3 288.6,180.9 290.2,184.9 312.7,179.3 312.7,163.8ZM327.6,166.1 314.9,162.6 313.1,163.1 312.7,163.8 312.7,179.3 312.9,179.8 330.1,183.2 333.5,178.6 333.5,175.7ZM399.4,166.7 405.1,163.9 407.8,154.2 390.7,149.9 383.9,153.9 385.1,159.6ZM288.8,198.0 273.2,213.6 273.5,217.7 289.4,219.7 295.3,215.3ZM306.7,196.3 290.8,192.7 289.0,195.4 288.8,198.0 295.3,215.3 303.6,216.8 313.9,210.6ZM312.7,179.3 290.2,184.9 290.8,192.7 306.7,196.3 312.9,188.8 312.9,179.8ZM312.9,179.8 312.9,188.8 325.1,193.7 330.1,183.6 330.1,183.2Z" fill="#06a0cd" stroke="#06a0cd" stroke-width="0.6"/><path d="M154.3,115.1 136.6,121.0 133.4,129.8 137.4,140.6 147.5,142.4ZM169.1,182.8 174.4,165.7 159.0,158.8 152.3,176.7 155.2,179.3 166.5,183.0ZM286.0,155.1 295.2,170.3 312.7,163.8 313.1,163.1 306.6,154.7 289.3,152.2ZM490.8,158.0 483.1,160.7 489.6,167.4 495.3,163.0 495.3,161.3ZM485.8,185.5 490.0,183.2 491.2,175.6 488.5,171.9 482.4,172.3 480.7,184.4ZM189.5,223.1 182.1,215.8 179.1,216.4 173.4,235.4 194.0,231.6Z" fill="#076fdf" stroke="#076fdf" stroke-width="0.6"/><path d="M155.0,114.3 152.2,103.7 130.5,112.3 136.6,121.0 154.3,115.1ZM306.6,132.2 307.5,131.6 302.2,113.1 289.7,111.3 285.1,129.5 291.6,133.3ZM259.3,141.2 248.3,149.4 249.2,154.4 262.4,163.9 275.1,156.8 268.6,140.4ZM306.6,154.7 306.6,132.2 291.6,133.3 289.3,152.2ZM275.5,157.0 281.4,177.6 288.6,180.9 295.2,170.3 286.0,155.1ZM350.2,154.4 342.6,162.1 346.0,169.4 356.7,165.2ZM542.5,147.3 570.0,155.2 570.0,95.0 542.4,95.0ZM288.6,180.9 281.4,177.6 268.0,181.0 266.6,187.2 267.5,195.4 289.0,195.4 290.8,192.7 290.2,184.9ZM423.7,248.7 429.8,256.6 430.4,256.7 433.0,256.2 438.7,253.3 429.2,239.7ZM438.7,253.3 442.1,252.1 443.5,250.4 443.0,246.7 440.6,240.1 430.0,237.9 429.2,239.7Z" fill="#0462e1" stroke="#0462e1" stroke-width="0.6"/><path d="M184.8,120.3 187.2,123.3 198.0,125.3 205.0,111.8 205.0,111.8 185.3,110.0ZM190.2,169.1 199.7,156.4 199.7,144.7 194.1,144.7 181.5,161.2 181.3,163.3ZM216.9,161.8 209.9,145.4 199.8,144.6 199.7,144.7 199.7,156.4 208.2,163.0ZM379.7,140.6 384.8,95.0 382.9,95.0 364.2,122.3 358.7,133.3 361.5,140.6ZM395.3,143.7 414.9,143.7 454.2,99.7 455.2,95.0 395.3,95.0ZM448.6,160.1 441.1,170.0 439.8,175.9 457.1,191.0 464.9,186.1ZM461.1,198.2 465.9,187.5 465.4,186.3 464.9,186.1 457.1,191.0 458.5,196.1Z" fill="#353cab" stroke="#353cab" stroke-width="0.6"/><path d="M200.9,128.7 198.0,125.3 187.2,123.3 185.0,138.8 194.1,144.7 199.7,144.7 199.8,144.6ZM193.7,174.4 190.2,169.1 181.3,163.3 174.4,165.7 169.1,182.8 172.0,185.3 184.9,184.3 193.3,176.9ZM248.3,149.4 259.3,141.2 250.0,125.8 240.1,128.6 234.0,140.8ZM217.0,185.8 217.8,185.1 224.9,166.1 224.2,165.2 220.1,163.9 206.6,175.4ZM272.2,112.3 254.8,109.4 254.8,119.9 274.6,129.7ZM328.7,138.5 328.8,138.5 330.7,137.1 331.0,136.5 332.3,131.5 328.6,101.9 309.0,131.4ZM249.4,189.4 250.6,187.2 251.3,176.5 237.9,170.7 236.4,182.2ZM358.7,133.3 356.6,133.7 346.1,144.2 348.9,151.8 350.2,152.9 361.5,147.3 361.5,140.6ZM346.1,144.2 356.6,133.7 349.8,132.4 331.0,136.5 330.7,137.1ZM350.2,152.9 348.9,151.8 336.0,152.8 334.8,160.1 342.6,162.1 350.2,154.4ZM535.0,154.3 534.4,149.6 525.6,144.2 522.8,166.6ZM501.4,167.6 498.1,174.2 502.5,178.6 510.5,170.7 505.7,166.8ZM127.9,167.2 118.6,172.9 121.2,193.8 123.6,193.8 132.6,169.9ZM235.2,194.2 248.3,198.0 249.4,189.4 236.4,182.2 233.3,187.6Z" fill="#363398" stroke="#363398" stroke-width="0.6"/><path d="M123.7,155.1 131.4,144.1 114.4,134.0 111.5,152.8ZM522.7,169.5 522.2,169.9 519.2,184.9 536.3,188.3 563.5,189.8 551.2,181.3ZM72.6,204.1 88.7,186.6 80.0,183.1 55.0,183.1 55.0,204.1ZM295.3,215.3 289.4,219.7 289.4,236.9 305.5,232.3 303.6,216.8ZM330.9,217.7 322.2,216.4 322.2,231.5 325.2,234.2 329.7,233.6 339.4,227.1ZM260.7,254.2 266.4,259.1 276.9,253.8 274.8,240.7 260.7,242.5ZM342.9,210.7 330.9,217.7 339.4,227.1 345.5,227.1 347.4,211.8 346.4,210.7ZM362.8,245.6 362.8,229.2 347.3,229.2 345.5,243.5 347.3,245.6 362.8,245.6ZM380.2,245.6 380.2,245.6 396.7,245.6 398.5,231.2 396.7,229.2 380.2,229.2 380.2,229.2ZM414.2,248.7 413.0,247.6 398.5,247.6 397.0,259.6 400.6,260.9 407.9,260.9 412.8,257.9ZM427.0,274.5 427.1,260.5 417.9,262.8 424.3,276.6 426.5,275.9ZM218.9,278.6 212.5,279.9 210.8,284.8 229.1,305.1 241.8,293.6 231.5,278.8 229.5,277.9 222.7,278.3ZM407.3,275.4 400.6,260.9 397.0,259.6 396.6,259.9 394.5,271.8 395.5,275.4Z" fill="#7abf7c" stroke="#7abf7c" stroke-width="0.6"/><path d="M92.5,144.4 84.0,140.3 82.5,140.3 68.5,149.2 85.9,155.9 92.9,152.6ZM304.2,253.5 292.5,247.6 283.4,256.6 283.8,258.0 286.2,263.8 295.4,266.8ZM329.3,257.2 329.3,254.9 326.6,250.9 325.2,250.2 313.4,253.7 323.8,270.2 326.6,270.0ZM464.6,264.9 465.5,264.2 467.2,253.2 460.1,251.4 459.9,251.4 458.4,263.0ZM334.4,275.5 346.4,271.3 346.4,267.0 346.2,265.5 344.5,259.0 335.7,264.8 332.5,273.3ZM473.2,263.7 478.4,256.7 471.3,252.7 467.2,253.2 465.5,264.2ZM295.4,266.8 286.2,263.8 275.4,277.4 294.2,277.4 296.4,269.5ZM323.8,270.2 313.5,277.0 312.7,286.5 328.3,295.0 332.4,294.0 334.4,275.5 332.5,273.3 326.6,270.0ZM356.2,275.4 368.7,275.4 364.9,259.9 362.8,258.7 362.1,259.0 360.9,260.8 359.4,263.8ZM456.7,273.7 459.4,274.6 464.9,266.5 464.6,264.9 458.4,263.0 456.9,264.0ZM473.2,266.3 469.0,271.2 470.2,284.2 485.5,308.7 514.2,340.0 531.2,340.0ZM456.7,273.7 449.0,278.7 449.9,284.9 485.5,308.7 470.2,284.2 459.4,274.6 456.7,273.7ZM368.7,275.4 356.2,275.4 353.3,276.7 352.0,288.9 357.9,291.8 365.0,291.8 373.4,279.3 370.4,276.3Z" fill="#fec13a" stroke="#fec13a" stroke-width="0.6"/><path d="M85.9,155.9 68.5,149.2 55.0,152.5 55.0,166.5 70.9,169.2 87.0,164.5ZM322.2,231.5 308.8,234.8 308.8,252.7 310.7,253.7 313.4,253.7 325.2,250.2 325.2,234.2ZM364.9,259.9 376.5,259.9 380.2,258.5 380.2,245.6 380.2,245.6 362.8,245.6 362.8,245.6 362.8,258.7ZM396.6,259.9 381.8,259.9 383.0,267.1 394.5,271.8ZM451.0,263.0 449.6,263.5 449.6,267.8 456.7,273.7 456.7,273.7 456.9,264.0ZM474.4,236.1 529.4,256.7 548.3,259.9 532.1,242.5 482.2,221.1 479.0,222.3ZM441.5,266.0 440.7,267.8 442.7,274.9 444.4,275.4 449.6,267.8 449.6,263.5 445.7,262.6Z" fill="#f6ba46" stroke="#f6ba46" stroke-width="0.6"/><path d="M85.9,155.9 87.0,164.5 92.8,167.6 101.2,166.6 102.5,160.7 92.9,152.6ZM149.3,328.3 144.1,340.0 214.6,340.0 215.5,327.7 200.4,297.5 184.4,293.1Z" fill="#f5ec18" stroke="#f5ec18" stroke-width="0.6"/><path d="M92.8,167.6 87.0,164.5 70.9,169.2 78.1,173.5 86.2,177.0ZM133.7,170.1 142.4,177.2 152.3,176.7 159.0,158.8 154.0,148.8ZM393.8,184.8 393.8,184.9 409.2,184.4 410.7,183.0 410.2,181.2 399.4,173.1 393.8,180.2ZM458.5,196.1 457.1,191.0 439.8,175.9 439.6,176.3 450.7,198.6ZM450.7,198.6 439.6,176.3 429.7,190.3 429.5,191.8 429.6,192.3 449.7,200.5ZM155.2,179.3 152.3,176.7 142.4,177.2 137.0,198.7 137.6,199.5 150.7,199.5ZM184.9,184.3 172.0,185.3 173.4,196.5 188.3,201.5ZM189.5,244.1 180.7,250.0 180.4,251.6 185.0,258.0 195.5,256.4 199.6,253.7ZM123.6,193.8 137.0,198.7 142.4,177.2 133.7,170.1 132.6,169.9ZM184.9,266.1 184.3,276.1 199.8,272.3 195.6,262.4 185.0,265.1ZM210.3,239.2 209.7,236.4 202.3,232.4 194.7,232.1 189.5,244.1 199.6,253.7 201.5,253.5ZM226.8,258.9 244.8,263.3 246.4,258.6 238.5,243.8 223.8,252.7 223.7,253.2ZM199.6,253.7 195.5,256.4 195.6,262.4 199.8,272.3 200.6,272.3 204.1,257.4 201.5,253.5ZM340.2,195.4 330.1,183.6 325.1,193.7 327.0,201.5ZM363.7,196.4 379.5,196.4 377.9,185.3 368.2,182.3 364.0,186.2 362.7,195.2ZM392.7,194.2 398.5,198.6 404.0,197.4 409.2,184.4 393.8,184.9ZM404.0,197.4 413.0,201.2 429.5,191.8 429.7,190.3 410.7,183.0 409.2,184.4ZM449.7,200.5 429.6,192.3 431.0,197.9 435.8,201.8 446.6,207.1 449.7,200.9ZM396.7,212.8 398.5,214.8 413.0,214.8 413.0,201.2 404.0,197.4 398.5,198.6ZM429.6,192.3 429.5,191.8 413.0,201.2 413.0,214.8 414.0,215.7 427.0,214.1 431.0,197.9ZM471.5,194.7 477.6,198.4 480.6,184.4 479.6,184.3 471.5,194.5ZM182.3,278.3 184.4,293.1 200.4,297.5 210.8,284.8 212.5,279.9 210.0,277.0 200.6,272.3 199.8,272.3 184.3,276.1ZM195.6,262.4 195.5,256.4 185.0,258.0 185.0,265.1ZM120.5,259.8 125.5,274.8 141.6,271.8 143.6,257.1 139.8,250.0 121.7,253.1ZM213.4,260.3 210.0,277.0 212.5,279.9 218.9,278.6 218.9,257.2ZM218.9,257.2 218.9,278.6 222.7,278.3 218.9,257.2Z" fill="#07aac1" stroke="#07aac1" stroke-width="0.6"/><path d="M93.1,186.3 102.6,169.1 101.2,166.6 92.8,167.6 86.2,177.0 89.6,186.0ZM327.0,201.5 318.5,211.2 322.2,216.4 330.9,217.7 342.9,210.7ZM345.5,227.1 347.3,229.2 362.8,229.2 362.8,229.2 362.8,212.8 361.8,211.8 347.4,211.8ZM380.2,229.2 380.2,229.2 380.2,212.8 362.8,212.8 362.8,229.2ZM413.0,231.2 414.0,230.3 414.0,215.7 413.0,214.8 398.5,214.8 396.7,229.2 398.5,231.2ZM459.0,224.9 460.6,236.5 461.7,236.9 470.7,236.9 472.4,236.4 463.3,223.0 460.9,223.0 460.0,223.8ZM443.0,246.7 454.4,240.3 454.6,238.3 447.4,232.4 440.6,240.1ZM519.2,184.9 516.3,186.9 519.5,191.7 536.3,188.3ZM532.1,242.5 520.5,225.4 509.1,211.9 491.5,207.5 483.7,212.2 482.2,221.1ZM463.3,223.0 472.4,236.4 473.0,236.6 474.4,236.1 479.0,222.3 470.5,218.0ZM443.5,250.4 452.8,251.5 456.7,250.4 454.4,240.3 443.0,246.7ZM438.7,253.3 433.0,256.2 441.5,266.0 445.7,262.6 442.1,252.1Z" fill="#55bd8e" stroke="#55bd8e" stroke-width="0.6"/><path d="M107.7,196.8 109.3,173.9 102.6,169.1 93.1,186.3ZM314.9,162.6 327.6,166.1 334.8,160.1 336.0,152.8 328.8,138.5 328.7,138.5ZM342.6,162.1 334.8,160.1 327.6,166.1 333.5,175.7 345.7,170.0 346.0,169.4ZM368.2,171.6 380.2,169.3 385.1,159.6 383.9,153.9 383.2,153.4 367.7,153.4 361.0,166.8 361.9,168.5ZM355.5,179.2 364.0,186.2 368.2,182.3 368.2,171.6 361.9,168.5ZM380.2,169.3 368.2,171.6 368.2,182.3 377.9,185.3 379.5,182.7 381.2,172.3ZM509.7,185.2 511.5,186.9 516.3,186.9 519.2,184.9 522.2,169.9 514.5,171.8ZM72.6,204.1 89.4,211.8 105.9,206.1 108.5,198.1 107.7,196.8 93.1,186.3 89.6,186.0 88.7,186.6ZM194.7,232.1 194.0,231.6 173.4,235.4 171.6,236.9 180.7,250.0 189.5,244.1ZM108.5,198.1 121.2,193.8 118.6,172.9 109.3,173.9 107.7,196.8ZM222.0,226.8 213.9,205.2 206.7,206.8 206.4,207.7 202.3,232.4 209.7,236.4ZM237.1,213.0 225.9,203.6 215.6,203.6 213.9,205.2 222.0,226.8 235.7,228.0 237.1,225.5ZM204.1,257.4 213.4,260.3 218.9,257.2 218.9,257.2 223.7,253.2 223.8,252.7 210.3,239.2 201.5,253.5ZM261.5,224.0 255.5,220.3 237.1,225.5 235.7,228.0 240.1,239.4 257.6,239.4ZM288.8,198.0 289.0,195.4 267.5,195.4 263.9,200.7 273.2,213.6ZM200.6,272.3 210.0,277.0 213.4,260.3 204.1,257.4Z" fill="#1484d4" stroke="#1484d4" stroke-width="0.6"/><path d="M208.2,163.0 199.7,156.4 190.2,169.1 193.7,174.4 196.4,173.7ZM302.2,113.1 307.5,131.6 309.0,131.4 328.6,101.9 330.0,95.0 317.3,95.0ZM336.0,152.8 348.9,151.8 346.1,144.2 330.7,137.1 328.8,138.5ZM215.6,188.3 217.0,185.8 206.6,175.4 196.4,173.7 193.7,174.4 193.3,176.9 198.8,185.6ZM498.1,174.2 501.4,167.6 495.3,163.0 489.6,167.4 488.5,171.9 491.2,175.6ZM268.0,181.0 260.6,173.1 251.3,176.5 250.6,187.2 266.6,187.2ZM465.9,187.5 461.1,198.2 462.8,200.2 471.5,194.7 471.5,194.5 471.3,194.3Z" fill="#3145bc" stroke="#3145bc" stroke-width="0.6"/><path d="M291.6,133.3 285.1,129.5 275.0,130.3 268.6,140.4 275.1,156.8 275.5,157.0 286.0,155.1 289.3,152.2ZM497.6,187.0 501.5,185.8 503.6,184.4 502.5,178.6 498.1,174.2 491.2,175.6 490.0,183.2Z" fill="#254fce" stroke="#254fce" stroke-width="0.6"/><path d="M383.2,153.4 383.9,153.9 390.7,149.9 395.3,143.7 395.3,95.0 384.8,95.0 379.7,140.6Z" fill="#3639a4" stroke="#3639a4" stroke-width="0.6"/><path d="M534.4,149.6 542.5,147.3 542.4,95.0 498.4,95.0 500.4,101.1 515.0,131.5 525.6,144.2ZM542.5,147.3 534.4,149.6 535.0,154.3 551.2,181.3 563.5,189.8 570.0,193.2 570.0,155.2ZM522.7,169.5 551.2,181.3 535.0,154.3 522.8,166.6 522.5,167.3ZM522.8,166.6 525.6,144.2 515.0,131.5 513.7,157.3 522.5,167.3ZM237.1,213.0 250.6,201.7 248.3,198.0 235.2,194.2 225.9,203.6Z" fill="#036be0" stroke="#036be0" stroke-width="0.6"/><path d="M563.5,189.8 536.3,188.3 519.5,191.7 520.5,225.4 532.1,242.5 548.3,259.9 570.0,273.3 570.0,193.2ZM256.7,274.8 259.5,278.0 267.6,275.6 267.6,269.8 266.4,259.1 260.7,254.2 256.1,256.2ZM396.7,229.2 398.5,214.8 396.7,212.8 380.2,212.8 380.2,212.8 380.2,229.2ZM430.0,237.9 427.7,232.0 414.0,230.3 413.0,231.2 413.0,247.6 414.2,248.7 423.7,248.7 429.2,239.7ZM486.1,190.0 496.4,193.1 497.6,187.0 490.0,183.2 485.8,185.5ZM470.3,216.5 470.5,218.0 479.0,222.3 482.2,221.1 483.7,212.2 478.6,208.4 471.0,212.4ZM395.5,275.4 394.5,271.8 383.0,267.1 378.1,279.4 395.1,276.0Z" fill="#33b8a1" stroke="#33b8a1" stroke-width="0.6"/><path d="M89.5,244.5 89.4,211.8 72.6,204.1 55.0,204.1 55.0,274.9ZM89.5,244.5 109.4,239.2 119.0,224.9 105.9,206.1 89.4,211.8ZM215.5,327.7 214.6,340.0 241.9,340.0 257.4,305.3 246.0,293.9 241.8,293.6 229.1,305.1ZM269.4,306.9 257.4,305.3 241.9,340.0 269.4,340.0ZM297.1,295.9 280.8,298.2 276.2,304.2 294.2,329.5 306.3,314.3ZM328.3,295.0 318.6,314.3 333.3,332.6 346.8,313.3 338.1,295.9 332.4,294.0ZM269.4,306.9 269.4,340.0 292.3,340.0 294.2,329.5 276.2,304.2ZM300.3,291.6 297.1,295.9 306.3,314.3 318.6,314.3 328.3,295.0 312.7,286.5ZM346.8,313.3 353.1,313.3 357.9,311.2 357.9,291.8 352.0,288.9 338.1,295.9ZM353.1,313.3 346.8,313.3 333.3,332.6 333.6,340.0 365.5,340.0ZM333.3,332.6 318.6,314.3 306.3,314.3 294.2,329.5 292.3,340.0 333.6,340.0ZM386.2,297.6 389.2,309.0 409.9,305.5 407.0,292.5 395.1,291.2 387.0,295.7ZM410.1,340.0 413.5,340.0 418.8,324.2 411.2,306.5 410.5,306.1 399.3,322.8ZM357.9,291.8 357.9,311.2 366.4,311.2 371.4,299.5 365.0,291.8ZM353.1,313.3 365.5,340.0 368.5,340.0 368.4,313.3 366.4,311.2 357.9,311.2ZM411.2,306.5 418.8,324.2 434.0,313.3 426.1,302.2ZM427.4,296.4 426.1,302.2 434.0,313.3 455.5,316.8 438.7,291.6 436.9,291.0ZM386.1,315.8 368.4,313.3 368.5,340.0 377.0,340.0ZM365.0,291.8 371.4,299.5 386.2,297.6 387.0,295.7 377.8,279.7 373.4,279.3ZM366.4,311.2 368.4,313.3 386.1,315.8 387.8,314.6 389.2,309.0 386.2,297.6 371.4,299.5ZM387.8,314.6 399.3,322.8 410.5,306.1 409.9,305.5 389.2,309.0ZM419.6,288.6 407.4,292.0 407.0,292.5 409.9,305.5 410.5,306.1 411.2,306.5 426.1,302.2 427.4,296.4ZM455.5,316.8 434.0,313.3 418.8,324.2 413.5,340.0 501.8,340.0ZM386.1,315.8 377.0,340.0 410.1,340.0 399.3,322.8 387.8,314.6Z" fill="#f6f115" stroke="#f6f115" stroke-width="0.6"/><path d="M119.0,224.9 109.4,239.2 121.7,253.1 139.8,250.0 145.6,231.1 133.7,223.1ZM173.4,196.5 163.0,209.0 163.6,211.7 179.1,216.4 182.1,215.8 189.7,202.9 188.3,201.5ZM273.5,217.7 271.1,221.1 278.1,237.4 289.0,237.4 289.4,236.9 289.4,219.7ZM240.1,239.4 238.5,243.8 246.4,258.6 256.1,256.2 260.7,254.2 260.7,242.5 257.6,239.4ZM340.2,195.4 327.0,201.5 327.0,201.5 342.9,210.7 346.4,210.7 346.4,195.4ZM346.4,210.7 347.4,211.8 361.8,211.8 363.7,196.4 362.7,195.2 348.1,193.4 346.4,195.4ZM361.8,211.8 362.8,212.8 380.2,212.8 380.2,212.8 380.2,197.0 379.5,196.4 363.7,196.4ZM380.2,212.8 396.7,212.8 398.5,198.6 392.7,194.2 380.2,197.0ZM478.6,208.4 477.8,201.4 467.5,206.2 471.0,212.4ZM467.5,206.2 477.8,201.4 478.5,199.3 477.6,198.4 471.5,194.7 462.8,200.2 462.8,203.4ZM445.6,216.0 439.8,214.8 429.3,216.7 430.7,223.9 445.2,223.1 445.6,217.1ZM447.4,230.4 447.4,232.4 454.6,238.3 460.6,236.5 459.0,224.9 447.8,229.0ZM152.2,281.9 149.3,328.3 184.4,293.1 182.3,278.3 166.1,272.6Z" fill="#0cadbb" stroke="#0cadbb" stroke-width="0.6"/><path d="M89.5,244.5 55.0,274.9 55.0,282.7 120.5,259.8 121.7,253.1 109.4,239.2ZM449.6,267.8 444.4,275.4 449.0,278.7 456.7,273.7ZM125.5,274.8 120.5,259.8 55.0,282.7 55.0,340.0 78.0,340.0ZM273.6,278.4 267.6,275.6 259.5,278.0 246.0,293.9 257.4,305.3 269.4,306.9 276.2,304.2 280.8,298.2Z" fill="#fabc42" stroke="#fabc42" stroke-width="0.6"/><path d="M151.9,230.1 145.6,231.1 139.8,250.0 143.6,257.1 162.8,257.7 161.4,236.5ZM161.4,236.5 162.8,257.7 164.9,259.7 167.6,258.5 180.4,251.6 180.7,250.0 171.6,236.9ZM162.8,257.7 143.6,257.1 141.6,271.8 152.2,281.9 166.1,272.6 164.9,259.7Z" fill="#f6dc23" stroke="#f6dc23" stroke-width="0.6"/><path d="M206.4,207.7 189.5,223.1 194.0,231.6 194.7,232.1 202.3,232.4Z" fill="#9bbf6f" stroke="#9bbf6f" stroke-width="0.6"/><path d="M222.7,278.3 229.5,277.9 226.8,258.9 223.7,253.2 218.9,257.2ZM325.1,193.7 312.9,188.8 306.7,196.3 313.9,210.6 318.5,211.2 327.0,201.5 327.0,201.5ZM260.7,242.5 274.8,240.7 278.1,237.4 271.1,221.1 261.5,224.0 257.6,239.4ZM330.1,183.2 330.1,183.6 340.2,195.4 346.4,195.4 348.1,193.4 347.3,185.8 333.5,178.6ZM347.3,185.8 348.1,193.4 362.7,195.2 364.0,186.2 355.5,179.2 351.1,180.6Z" fill="#06a6c6" stroke="#06a6c6" stroke-width="0.6"/><path d="M261.5,224.0 271.1,221.1 273.5,217.7 273.2,213.6 263.9,200.7 253.0,202.7 255.5,220.3Z" fill="#1389d3" stroke="#1389d3" stroke-width="0.6"/><path d="M322.2,216.4 318.5,211.2 313.9,210.6 303.6,216.8 305.5,232.3 308.8,234.8 322.2,231.5ZM276.9,253.8 266.4,259.1 267.6,269.8 283.8,258.0 283.4,256.6ZM433.0,256.2 430.4,256.7 435.4,267.5 440.7,267.8 441.5,266.0ZM246.4,258.6 244.8,263.3 244.8,264.2 256.7,274.8 256.1,256.2Z" fill="#c3bc5f" stroke="#c3bc5f" stroke-width="0.6"/><path d="M335.7,264.8 344.5,259.0 344.5,258.9 329.3,254.9 329.3,257.2ZM294.2,277.4 275.4,277.4 273.6,278.4 280.8,298.2 297.1,295.9 300.3,291.6Z" fill="#f7d826" stroke="#f7d826" stroke-width="0.6"/><path d="M460.9,223.0 463.3,223.0 470.5,218.0 470.3,216.5 457.8,210.0 455.5,212.3ZM414.0,215.7 414.0,230.3 427.7,232.0 429.4,228.9 430.7,223.9 429.3,216.7 427.0,214.1ZM430.7,223.9 429.4,228.9 447.4,230.4 447.8,229.0 445.2,223.1ZM483.7,212.2 491.5,207.5 485.8,198.1 478.5,199.3 477.8,201.4 478.6,208.4ZM460.0,206.2 457.8,210.0 470.3,216.5 471.0,212.4 467.5,206.2 462.8,203.4ZM440.6,240.1 447.4,232.4 447.4,230.4 429.4,228.9 427.7,232.0 430.0,237.9Z" fill="#18b1b2" stroke="#18b1b2" stroke-width="0.6"/><path d="M362.8,229.2 362.8,245.6 380.2,245.6 380.2,229.2 362.8,229.2ZM396.7,245.6 398.5,247.6 413.0,247.6 413.0,231.2 398.5,231.2ZM167.6,258.5 164.9,259.7 166.1,272.6 182.3,278.3 184.3,276.1 184.9,266.1Z" fill="#adbe68" stroke="#adbe68" stroke-width="0.6"/><path d="M416.6,262.5 417.9,262.8 427.1,260.5 429.8,256.6 423.7,248.7 414.2,248.7 412.8,257.9ZM381.8,259.9 380.2,258.5 376.5,259.9 370.4,276.3 373.4,279.3 377.8,279.7 378.1,279.4 383.0,267.1Z" fill="#6bbf83" stroke="#6bbf83" stroke-width="0.6"/><path d="M376.5,259.9 364.9,259.9 368.7,275.4 370.4,276.3ZM470.2,284.2 469.0,271.2 464.9,266.5 459.4,274.6ZM359.4,263.8 360.9,260.8 346.2,265.5 346.4,267.0ZM433.7,279.7 436.9,291.0 438.7,291.6 449.9,284.9 449.0,278.7 444.4,275.4 442.7,274.9Z" fill="#fad12b" stroke="#fad12b" stroke-width="0.6"/><path d="M141.6,271.8 125.5,274.8 78.0,340.0 144.1,340.0 149.3,328.3 152.2,281.9ZM200.4,297.5 215.5,327.7 229.1,305.1 210.8,284.8Z" fill="#88bf77" stroke="#88bf77" stroke-width="0.6"/><path d="M283.8,258.0 267.6,269.8 267.6,275.6 273.6,278.4 275.4,277.4 286.2,263.8Z" fill="#fdcb30" stroke="#fdcb30" stroke-width="0.6"/><path d="M379.5,283.0 398.5,283.0 394.0,300.0 389.0,320.5 385.0,303.0Z" fill="#ecb94c"/><path d="M403.0,300.0 411.0,300.0 408.0,322.0Z" fill="#f5e71b"/></g><path d="M83.8,108.4 317.8,108.3 317.8,104.2 320.9,105.0 321.9,110.4 331.1,112.4 339.3,114.5 346.1,117.5 352.3,118.6 360.5,120.6 366.0,117.5 373.8,114.5 407.6,135.0 412.0,139.0 414.7,144.9 423.7,151.5 425.3,159.7 427.0,172.8 427.8,181.0 424.0,187.0 421.0,192.5 427.0,194.9 450.7,185.1 455.5,180.0 454.8,173.6 472.0,173.6 475.3,169.5 480.5,164.5 484.3,158.0 488.4,154.1 519.9,154.1 526.1,148.9 528.1,140.7 532.2,132.5 536.3,126.4 540.4,129.5 544.5,127.4 549.6,130.5 550.7,140.7 551.7,148.9 554.8,156.1 550.7,161.2 544.5,163.3 538.4,165.3 533.2,169.4 528.1,171.5 525.0,177.6 523.0,183.8 524.0,189.9 529.1,192.0 530.4,196.5 526.0,197.5 520.0,198.5 512.0,202.4 505.8,203.4 500.7,204.5 498.6,207.5 496.6,213.7 495.6,219.8 491.5,222.9 489.4,226.0 485.3,232.1 483.3,238.3 482.2,246.5 479.2,252.6 481.2,260.8 481.1,266.1 477.0,272.3 470.9,278.4 464.8,282.5 460.7,288.7 454.5,293.8 448.4,300.0 442.2,305.1 438.1,311.2 435.0,319.4 433.7,325.2 435.3,335.5 438.4,345.7 440.5,353.9 443.5,364.2 446.0,374.4 444.5,386.7 441.5,391.8 436.4,392.9 434.3,385.7 431.2,382.6 429.2,375.5 427.1,371.4 424.1,364.2 421.0,359.1 423.0,350.9 421.0,345.7 415.9,339.6 411.8,333.4 406.6,336.5 400.5,337.5 398.4,333.4 397.1,330.7 386.9,328.6 376.6,329.7 370.0,331.0 364.3,334.6 368.0,339.0 366.4,343.8 360.2,340.7 356.1,343.8 350.0,340.7 345.9,336.6 341.8,338.7 335.7,337.7 329.5,335.6 325.4,337.7 319.3,339.7 313.1,347.9 307.0,350.0 303.9,353.0 298.8,359.2 296.7,366.4 299.8,375.6 299.8,383.4 292.6,379.7 285.5,376.6 282.4,371.5 281.4,364.3 277.3,358.2 273.2,348.9 269.1,340.7 263.9,336.6 257.8,336.6 253.7,340.7 250.6,345.9 245.5,342.8 240.4,338.7 237.3,333.6 231.1,324.3 225.0,316.1 220.2,313.7 211.4,314.5 209.3,319.4 181.7,319.4 172.5,314.3 158.1,306.1 153.0,303.0 137.6,303.0 132.5,302.0 129.4,293.8 123.3,289.7 120.2,285.6 111.0,282.5 103.8,280.5 102.8,275.4 98.7,268.2 93.3,260.0 91.0,249.7 87.9,239.4 80.7,229.2 75.6,216.9 72.5,213.5 69.8,211.5 70.3,208.0 74.6,206.0 72.5,192.3 71.0,180.0 72.7,177.0 73.3,162.6 74.8,148.3 75.4,136.0 72.3,125.7 69.2,115.5 75.0,117.0 84.5,118.8 86.5,114.0 84.5,111.0 83.8,108.4Z" fill="none" stroke="#2b2b2b" stroke-width="2.5" stroke-linejoin="round"/><path d="M84,109 L89,111 L90.5,118 L90,126 L87,131 L84.5,127 L86,121 L85,114Z" fill="#2e2e2e"/><path d="M467.9,231.5 L474.1,225.4 L478.2,222.3 L481.2,225.4 L479.2,232.5 L481.2,238.7 L482.3,245.9 L481.2,251 L478.2,254.1 L474.1,251 L472,244.8 L470,238.7Z" fill="#2e2e2e" opacity="0.92"/><path d="M475,258 L480,256 L484,262 L483,268 L478.5,274 L475,272 L478,265Z" fill="#2e2e2e" opacity="0.9"/><path d="M88,237 L92.5,236 L95.5,238.5 L93,241.5 L89.5,240.5Z" fill="#2b2b2b"/><path d="M389.5,149.5 L384,153 L380.5,158 L378,164 L377.5,168.5 L380.3,165 L382.8,159 L386.3,154.3 L390.5,151.3" fill="none" stroke="#0000ff" stroke-width="1.6"/><path d="M530.4,193 L529.5,197 L524,199.3 L512,202.6 L501,204.6 L498.3,208.5 L496.5,215 L495,220.5 L491,223.5 L488.5,227" fill="none" stroke="#2b2b2b" stroke-width="3.6" stroke-linejoin="round" stroke-linecap="round"/><path d="M69.5,116 L70.5,122 L73,128 L75,136 L74.8,148" fill="none" stroke="#2b2b2b" stroke-width="3.4" stroke-linejoin="round" stroke-linecap="round"/><path d="M360,339 L364,337 L369,339 L370,344 L366,346.5 L362,345Z" fill="#2b2b2b"/><path d="M344.1,135.0 352.3,125.7 360.5,121.6 366.6,115.5 372.8,112.4 377.9,108.3 384.1,110.4 391.2,112.4 395.3,117.5 398.4,121.6 403.5,120.6 405.6,125.7 406.6,130.9 408.6,135.0 401.5,133.9 395.3,135.0 389.2,138.0 384.1,136.0 378.9,135.0 373.8,132.9 370.7,130.0 364.6,132.9 360.5,138.0 356.4,133.9 350.2,132.9Z" fill="none" stroke="#0000ff" stroke-width="2.9" stroke-linejoin="round"/><path d="M407.6,143.2 401.5,144.2 391.2,146.2 386.1,150.3 383.0,156.5 381.0,162.6 380.0,170.8 379.5,180.0 380.0,188.0 382.0,193.0 385.3,195.4 389.5,194.0 392.5,189.0 393.5,182.0 392.5,173.0 392.3,164.7 393.3,154.4 396.0,150.5 399.4,148.3 405.6,145.2Z" fill="none" stroke="#0000ff" stroke-width="2.9" stroke-linejoin="round"/><path d="M409.8,141.6 416.3,142.5 427.8,144.1 437.6,146.6 442.5,149.8 447.5,154.8 448.3,158.9 444.2,159.7 439.3,155.6 434.3,153.1 430.2,153.9 431.1,158.0 433.5,163.0 432.7,167.9 431.9,172.8 430.2,177.7 427.8,181.0 424.5,176.1 422.0,168.7 418.8,167.0 415.5,171.1 413.0,167.9 415.5,161.3 416.3,153.1 414.7,146.6Z" fill="none" stroke="#0000ff" stroke-width="2.9" stroke-linejoin="round"/><path d="M417.1,194.1 418.0,189.2 422.9,189.2 432.7,187.5 440.9,185.1 449.1,181.8 454.8,177.7 456.5,179.3 452.4,185.1 444.2,189.2 436.0,193.3 427.8,197.4 419.6,198.2Z" fill="none" stroke="#0000ff" stroke-width="2.9" stroke-linejoin="round"/><path d="M449.1,175.2 452.4,171.1 460.6,167.9 468.8,166.2 477.0,163.8 481.1,162.1 479.4,166.2 475.3,172.0 468.8,175.2 460.6,176.9 454.0,176.9Z" fill="none" stroke="#0000ff" stroke-width="2.9" stroke-linejoin="round"/><path d="M99.7,116.1h5.4M102.4,113.4v5.4M105.7,124.3h5.4M108.4,121.6v5.4M127.0,125.1h5.4M129.7,122.4v5.4M119.8,131.5h5.4M122.5,128.8v5.4M138.9,125.7h5.4M141.6,123.0v5.4M135.2,116.5h5.4M137.9,113.8v5.4M135.8,108.9h5.4M138.5,106.2v5.4M155.7,127.8h5.4M158.4,125.1v5.4M170.6,113.4h5.4M173.3,110.7v5.4M171.4,117.1h5.4M174.1,114.4v5.4M171.6,122.3h5.4M174.3,119.6v5.4M176.2,129.8h5.4M178.9,127.1v5.4M191.9,114.5h5.4M194.6,111.8v5.4M196.8,113.4h5.4M199.5,110.7v5.4M190.5,131.9h5.4M193.2,129.2v5.4M204.8,133.9h5.4M207.5,131.2v5.4M113.7,141.7h5.4M116.4,139.0v5.4M106.1,140.5h5.4M108.8,137.8v5.4M94.2,147.9h5.4M96.9,145.2v5.4M99.3,150.3h5.4M102.0,147.6v5.4M80.5,149.3h5.4M83.2,146.6v5.4M83.9,148.9h5.4M86.6,146.2v5.4M88.0,150.3h5.4M90.7,147.6v5.4M79.4,160.6h5.4M82.1,157.9v5.4M80.9,170.2h5.4M83.6,167.5v5.4M77.8,180.0h5.4M80.5,177.3v5.4M110.2,151.4h5.4M112.9,148.7v5.4M134.1,161.0h5.4M136.8,158.3v5.4M140.3,172.5h5.4M143.0,169.8v5.4M176.8,149.9h5.4M179.5,147.2v5.4M181.7,148.3h5.4M184.4,145.6v5.4M190.5,145.8h5.4M193.2,143.1v5.4M204.8,145.2h5.4M207.5,142.5v5.4M198.3,161.6h5.4M201.0,158.9v5.4M205.9,167.7h5.4M208.6,165.0v5.4M204.4,179.4h5.4M207.1,176.7v5.4M153.2,183.1h5.4M155.9,180.4v5.4M81.9,135.0h5.4M84.6,132.3v5.4M89.1,130.2h5.4M91.8,127.5v5.4M88.0,120.6h5.4M90.7,117.9v5.4M87.6,114.5h5.4M90.3,111.8v5.4M70.0,120.6h5.4M72.7,117.9v5.4M237.9,126.8h5.4M240.6,124.1v5.4M234.2,131.3h5.4M236.9,128.6v5.4M252.6,133.3h5.4M255.3,130.6v5.4M255.3,133.3h5.4M258.0,130.6v5.4M236.2,139.1h5.4M238.9,136.4v5.4M216.8,158.1h5.4M219.5,155.4v5.4M267.0,134.3h5.4M269.7,131.6v5.4M271.5,112.4h5.4M274.2,109.7v5.4M271.5,115.5h5.4M274.2,112.8v5.4M298.7,121.2h5.4M301.4,118.5v5.4M303.9,128.4h5.4M306.6,125.7v5.4M309.4,133.9h5.4M312.1,131.2v5.4M315.7,133.3h5.4M318.4,130.6v5.4M323.3,129.2h5.4M326.0,126.5v5.4M329.5,129.2h5.4M332.2,126.5v5.4M239.3,157.5h5.4M242.0,154.8v5.4M260.8,155.5h5.4M263.5,152.8v5.4M239.3,169.8h5.4M242.0,167.1v5.4M245.5,174.9h5.4M248.2,172.2v5.4M258.8,168.4h5.4M261.5,165.7v5.4M276.2,138.0h5.4M278.9,135.3v5.4M285.8,133.9h5.4M288.5,131.2v5.4M287.5,142.5h5.4M290.2,139.8v5.4M277.6,146.8h5.4M280.3,144.1v5.4M287.5,150.3h5.4M290.2,147.6v5.4M282.3,155.5h5.4M285.0,152.8v5.4M286.4,154.4h5.4M289.1,151.7v5.4M309.0,148.7h5.4M311.7,146.0v5.4M309.6,155.9h5.4M312.3,153.2v5.4M342.4,145.8h5.4M345.1,143.1v5.4M269.0,169.2h5.4M271.7,166.5v5.4M275.6,169.2h5.4M278.3,166.5v5.4M278.9,161.6h5.4M281.6,158.9v5.4M282.3,173.9h5.4M285.0,171.2v5.4M293.2,157.1h5.4M295.9,154.4v5.4M298.7,157.1h5.4M301.4,154.4v5.4M290.5,166.7h5.4M293.2,164.0v5.4M295.3,167.7h5.4M298.0,165.0v5.4M292.6,172.5h5.4M295.3,169.8v5.4M295.3,177.0h5.4M298.0,174.3v5.4M305.5,167.7h5.4M308.2,165.0v5.4M306.5,174.5h5.4M309.2,171.8v5.4M242.0,183.5h5.4M244.7,180.8v5.4M247.5,109.8h5.4M250.2,107.1v5.4M297.3,109.8h5.4M300.0,107.1v5.4M320.3,164.7h5.4M323.0,162.0v5.4M325.4,164.7h5.4M328.1,162.0v5.4M320.3,171.8h5.4M323.0,169.1v5.4M323.3,173.9h5.4M326.0,171.2v5.4M328.4,172.9h5.4M331.1,170.2v5.4M336.6,164.7h5.4M339.3,162.0v5.4M337.7,171.8h5.4M340.4,169.1v5.4M320.3,177.0h5.4M323.0,174.3v5.4M330.5,179.0h5.4M333.2,176.3v5.4M340.7,179.0h5.4M343.4,176.3v5.4M312.1,183.1h5.4M314.8,180.4v5.4M299.8,182.1h5.4M302.5,179.4v5.4M318.2,181.1h5.4M320.9,178.4v5.4M375.2,146.2h5.4M377.9,143.5v5.4M355.7,154.4h5.4M358.4,151.7v5.4M354.7,160.6h5.4M357.4,157.9v5.4M357.8,161.0h5.4M360.5,158.3v5.4M362.9,166.7h5.4M365.6,164.0v5.4M370.1,163.6h5.4M372.8,160.9v5.4M371.1,170.4h5.4M373.8,167.7v5.4M343.4,180.0h5.4M346.1,177.3v5.4M349.6,179.0h5.4M352.3,176.3v5.4M352.7,182.1h5.4M355.4,179.4v5.4M363.9,173.9h5.4M366.6,171.2v5.4M363.9,184.1h5.4M366.6,181.4v5.4M370.1,178.0h5.4M372.8,175.3v5.4M396.3,171.8h5.4M399.0,169.1v5.4M402.9,174.9h5.4M405.6,172.2v5.4M408.0,179.4h5.4M410.7,176.7v5.4M484.8,165.7h5.4M487.5,163.0v5.4M480.1,170.8h5.4M482.8,168.1v5.4M461.3,182.1h5.4M464.0,179.4v5.4M356.8,139.1h5.4M359.5,136.4v5.4M537.7,148.3h5.4M540.4,145.6v5.4M525.4,159.8h5.4M528.1,157.1v5.4M528.5,165.3h5.4M531.2,162.6v5.4M509.4,162.9h5.4M512.1,160.2v5.4M495.3,159.6h5.4M498.0,156.9v5.4M484.0,160.8h5.4M486.7,158.1v5.4M508.0,171.5h5.4M510.7,168.8v5.4M505.9,176.0h5.4M508.6,173.3v5.4M508.0,181.1h5.4M510.7,178.4v5.4M505.9,187.5h5.4M508.6,184.8v5.4M518.9,178.6h5.4M521.6,175.9v5.4M518.2,184.8h5.4M520.9,182.1v5.4M498.8,193.0h5.4M501.5,190.3v5.4M485.5,182.7h5.4M488.2,180.0v5.4M480.7,185.8h5.4M483.4,183.1v5.4M472.5,186.2h5.4M475.2,183.5v5.4M469.1,190.9h5.4M471.8,188.2v5.4M471.1,194.0h5.4M473.8,191.3v5.4M461.5,186.2h5.4M464.2,183.5v5.4M459.8,188.9h5.4M462.5,186.2v5.4M450.0,193.0h5.4M452.7,190.3v5.4M444.5,198.5h5.4M447.2,195.8v5.4M454.7,198.5h5.4M457.4,195.8v5.4M78.0,187.2h5.4M80.7,184.5v5.4M84.2,195.4h5.4M86.9,192.7v5.4M79.1,225.5h5.4M81.8,222.8v5.4M98.1,226.1h5.4M100.8,223.4v5.4M119.0,212.4h5.4M121.7,209.7v5.4M117.0,222.0h5.4M119.7,219.3v5.4M122.1,234.9h5.4M124.8,232.2v5.4M100.2,267.7h5.4M102.9,265.0v5.4M156.3,206.6h5.4M159.0,203.9v5.4M170.9,209.3h5.4M173.6,206.6v5.4M176.4,213.8h5.4M179.1,211.1v5.4M155.9,186.1h5.4M158.6,183.4v5.4M158.0,189.2h5.4M160.7,186.5v5.4M179.5,189.8h5.4M182.2,187.1v5.4M174.8,194.8h5.4M177.5,192.1v5.4M168.2,223.0h5.4M170.9,220.3v5.4M171.3,226.1h5.4M174.0,223.4v5.4M173.3,229.2h5.4M176.0,226.5v5.4M175.4,221.0h5.4M178.1,218.3v5.4M176.4,224.1h5.4M179.1,221.4v5.4M176.8,241.5h5.4M179.5,238.8v5.4M165.1,248.6h5.4M167.8,245.9v5.4M169.2,251.1h5.4M171.9,248.4v5.4M184.6,234.9h5.4M187.3,232.2v5.4M194.4,232.3h5.4M197.1,229.6v5.4M194.8,243.5h5.4M197.5,240.8v5.4M193.8,247.6h5.4M196.5,244.9v5.4M233.4,190.2h5.4M236.1,187.5v5.4M234.4,194.8h5.4M237.1,192.1v5.4M234.4,201.5h5.4M237.1,198.8v5.4M231.4,208.1h5.4M234.1,205.4v5.4M229.9,215.2h5.4M232.6,212.5v5.4M243.7,200.5h5.4M246.4,197.8v5.4M248.8,195.4h5.4M251.5,192.7v5.4M252.9,201.9h5.4M255.6,199.2v5.4M207.8,233.7h5.4M210.5,231.0v5.4M221.1,242.5h5.4M223.8,239.8v5.4M207.2,252.7h5.4M209.9,250.0v5.4M232.8,257.5h5.4M235.5,254.8v5.4M218.0,265.7h5.4M220.7,263.0v5.4M247.8,257.5h5.4M250.5,254.8v5.4M254.5,229.2h5.4M257.2,226.5v5.4M243.7,238.8h5.4M246.4,236.1v5.4M248.4,238.8h5.4M251.1,236.1v5.4M252.9,238.8h5.4M255.6,236.1v5.4M260.5,208.7h5.4M263.2,206.0v5.4M259.0,217.9h5.4M261.7,215.2v5.4M267.2,233.7h5.4M269.9,231.0v5.4M264.1,240.5h5.4M266.8,237.8v5.4M266.2,251.1h5.4M268.9,248.4v5.4M276.4,198.9h5.4M279.1,196.2v5.4M282.6,199.9h5.4M285.3,197.2v5.4M287.7,198.4h5.4M290.4,195.7v5.4M292.8,198.9h5.4M295.5,196.2v5.4M290.8,191.3h5.4M293.5,188.6v5.4M295.5,193.3h5.4M298.2,190.6v5.4M299.0,185.1h5.4M301.7,182.4v5.4M306.2,183.1h5.4M308.9,180.4v5.4M318.4,187.2h5.4M321.1,184.5v5.4M322.5,184.1h5.4M325.2,181.4v5.4M330.7,185.1h5.4M333.4,182.4v5.4M335.9,192.3h5.4M338.6,189.6v5.4M327.7,199.5h5.4M330.4,196.8v5.4M305.1,194.3h5.4M307.8,191.6v5.4M310.3,196.4h5.4M313.0,193.7v5.4M273.4,204.6h5.4M276.1,201.9v5.4M269.3,211.8h5.4M272.0,209.1v5.4M275.4,213.8h5.4M278.1,211.1v5.4M270.3,217.9h5.4M273.0,215.2v5.4M275.4,217.9h5.4M278.1,215.2v5.4M278.5,208.7h5.4M281.2,206.0v5.4M283.6,210.7h5.4M286.3,208.0v5.4M287.7,206.6h5.4M290.4,203.9v5.4M293.9,205.6h5.4M296.6,202.9v5.4M299.0,200.5h5.4M301.7,197.8v5.4M293.9,209.7h5.4M296.6,207.0v5.4M299.0,210.7h5.4M301.7,208.0v5.4M305.1,204.6h5.4M307.8,201.9v5.4M306.2,210.7h5.4M308.9,208.0v5.4M310.3,210.7h5.4M313.0,208.0v5.4M316.4,206.6h5.4M319.1,203.9v5.4M318.4,212.8h5.4M321.1,210.1v5.4M334.8,202.5h5.4M337.5,199.8v5.4M312.3,218.9h5.4M315.0,216.2v5.4M286.7,214.8h5.4M289.4,212.1v5.4M293.9,225.5h5.4M296.6,222.8v5.4M303.1,224.1h5.4M305.8,221.4v5.4M314.3,227.1h5.4M317.0,224.4v5.4M314.3,231.2h5.4M317.0,228.5v5.4M331.8,222.0h5.4M334.5,219.3v5.4M275.4,227.5h5.4M278.1,224.8v5.4M279.5,228.8h5.4M282.2,226.1v5.4M294.3,234.9h5.4M297.0,232.2v5.4M301.0,241.1h5.4M303.7,238.4v5.4M324.6,236.4h5.4M327.3,233.7v5.4M318.4,241.5h5.4M321.1,238.8v5.4M322.5,245.6h5.4M325.2,242.9v5.4M335.9,242.5h5.4M338.6,239.8v5.4M275.8,248.6h5.4M278.5,245.9v5.4M279.9,248.6h5.4M282.6,245.9v5.4M290.8,249.7h5.4M293.5,247.0v5.4M307.2,250.7h5.4M309.9,248.0v5.4M310.3,248.6h5.4M313.0,245.9v5.4M318.4,249.7h5.4M321.1,247.0v5.4M323.6,250.7h5.4M326.3,248.0v5.4M305.1,254.8h5.4M307.8,252.1v5.4M291.8,258.9h5.4M294.5,256.2v5.4M292.8,263.0h5.4M295.5,260.3v5.4M311.3,258.9h5.4M314.0,256.2v5.4M326.6,257.9h5.4M329.3,255.2v5.4M285.7,268.1h5.4M288.4,265.4v5.4M314.3,265.0h5.4M317.0,262.3v5.4M434.5,200.4h5.4M437.2,197.7v5.4M437.5,204.5h5.4M440.2,201.8v5.4M460.1,205.5h5.4M462.8,202.8v5.4M444.7,215.7h5.4M447.4,213.0v5.4M447.8,221.9h5.4M450.5,219.2v5.4M462.5,215.7h5.4M465.2,213.0v5.4M469.7,216.4h5.4M472.4,213.7v5.4M486.7,209.6h5.4M489.4,206.9v5.4M488.8,203.4h5.4M491.5,200.7v5.4M486.7,198.3h5.4M489.4,195.6v5.4M492.5,194.8h5.4M495.2,192.1v5.4M486.3,215.7h5.4M489.0,213.0v5.4M462.1,226.0h5.4M464.8,223.3v5.4M455.6,228.0h5.4M458.3,225.3v5.4M450.9,233.8h5.4M453.6,231.1v5.4M440.6,227.4h5.4M443.3,224.7v5.4M435.9,228.0h5.4M438.6,225.3v5.4M430.4,229.1h5.4M433.1,226.4v5.4M445.3,239.3h5.4M448.0,236.6v5.4M449.8,240.3h5.4M452.5,237.6v5.4M455.0,238.7h5.4M457.7,236.0v5.4M480.2,234.2h5.4M482.9,231.5v5.4M465.2,247.5h5.4M467.9,244.8v5.4M431.4,250.2h5.4M434.1,247.5v5.4M437.5,256.7h5.4M440.2,254.0v5.4M447.8,256.3h5.4M450.5,253.6v5.4M457.0,262.5h5.4M459.7,259.8v5.4M463.2,263.9h5.4M465.9,261.2v5.4M430.4,263.9h5.4M433.1,261.2v5.4M439.6,268.0h5.4M442.3,265.3v5.4M450.3,264.9h5.4M453.0,262.2v5.4M457.0,269.0h5.4M459.7,266.3v5.4M456.0,255.7h5.4M458.7,253.0v5.4M134.9,298.9h5.4M137.6,296.2v5.4M169.8,280.1h5.4M172.5,277.4v5.4M195.4,280.5h5.4M198.1,277.8v5.4M189.6,313.9h5.4M192.3,311.2v5.4M225.1,291.1h5.4M227.8,288.4v5.4M244.2,272.3h5.4M246.9,269.6v5.4M246.8,273.9h5.4M249.5,271.2v5.4M239.1,306.1h5.4M241.8,303.4v5.4M260.6,284.6h5.4M263.3,281.9v5.4M263.7,290.7h5.4M266.4,288.0v5.4M266.7,302.0h5.4M269.4,299.3v5.4M282.1,274.8h5.4M284.8,272.1v5.4M280.0,279.9h5.4M282.7,277.2v5.4M277.0,296.9h5.4M279.7,294.2v5.4M280.0,302.0h5.4M282.7,299.3v5.4M274.5,313.7h5.4M277.2,311.0v5.4M283.5,313.7h5.4M286.2,311.0v5.4M289.3,320.9h5.4M292.0,318.2v5.4M285.6,325.2h5.4M288.3,322.5v5.4M297.1,278.4h5.4M299.8,275.7v5.4M301.6,276.8h5.4M304.3,274.1v5.4M305.3,268.6h5.4M308.0,265.9v5.4M322.7,279.9h5.4M325.4,277.2v5.4M338.4,273.9h5.4M341.1,271.2v5.4M348.7,268.2h5.4M351.4,265.5v5.4M348.3,276.4h5.4M351.0,273.7v5.4M341.5,284.6h5.4M344.2,281.9v5.4M329.8,288.7h5.4M332.5,286.0v5.4M353.8,284.6h5.4M356.5,281.9v5.4M354.8,292.8h5.4M357.5,290.1v5.4M321.6,303.6h5.4M324.3,300.9v5.4M339.1,304.1h5.4M341.8,301.4v5.4M348.7,310.2h5.4M351.4,307.5v5.4M328.2,270.2h5.4M330.9,267.5v5.4M361.6,262.0h5.4M364.3,259.3v5.4M367.8,267.2h5.4M370.5,264.5v5.4M378.0,271.3h5.4M380.7,268.6v5.4M380.1,262.0h5.4M382.8,259.3v5.4M387.3,269.2h5.4M390.0,266.5v5.4M394.4,267.2h5.4M397.1,264.5v5.4M389.3,264.1h5.4M392.0,261.4v5.4M399.6,263.1h5.4M402.3,260.4v5.4M358.6,282.5h5.4M361.3,279.8v5.4M362.7,281.5h5.4M365.4,278.8v5.4M369.8,279.5h5.4M372.5,276.8v5.4M362.7,297.9h5.4M365.4,295.2v5.4M367.8,293.8h5.4M370.5,291.1v5.4M369.8,288.7h5.4M372.5,286.0v5.4M358.6,315.3h5.4M361.3,312.6v5.4M365.7,314.3h5.4M368.4,311.6v5.4M361.6,319.4h5.4M364.3,316.7v5.4M385.2,284.6h5.4M387.9,281.9v5.4M396.5,280.5h5.4M399.2,277.8v5.4M399.6,283.6h5.4M402.3,280.9v5.4M391.4,293.8h5.4M394.1,291.1v5.4M402.2,292.8h5.4M404.9,290.1v5.4M398.5,298.9h5.4M401.2,296.2v5.4M404.7,302.6h5.4M407.4,299.9v5.4M413.9,308.2h5.4M416.6,305.5v5.4M415.9,297.9h5.4M418.6,295.2v5.4M420.0,289.7h5.4M422.7,287.0v5.4M421.1,293.8h5.4M423.8,291.1v5.4M410.8,282.5h5.4M413.5,279.8v5.4M415.9,273.3h5.4M418.6,270.6v5.4M419.0,269.2h5.4M421.7,266.5v5.4M422.1,265.1h5.4M424.8,262.4v5.4M417.0,263.1h5.4M419.7,260.4v5.4M440.5,272.3h5.4M443.2,269.6v5.4M435.4,276.4h5.4M438.1,273.7v5.4M431.3,280.5h5.4M434.0,277.8v5.4M425.2,282.5h5.4M427.9,279.8v5.4M420.0,280.5h5.4M422.7,277.8v5.4M443.6,278.4h5.4M446.3,275.7v5.4M449.8,279.5h5.4M452.5,276.8v5.4M451.8,274.3h5.4M454.5,271.6v5.4M472.3,274.3h5.4M475.0,271.6v5.4M449.8,286.6h5.4M452.5,283.9v5.4M435.4,302.0h5.4M438.1,299.3v5.4M336.5,223.7h5.4M339.2,221.0v5.4M372.7,189.2h5.4M375.4,186.5v5.4M371.8,245.2h5.4M374.5,242.5v5.4M334.0,247.5h5.4M336.7,244.8v5.4M343.7,192.7h5.4M346.4,190.0v5.4M393.2,211.6h5.4M395.9,208.9v5.4M335.6,188.4h5.4M338.3,185.7v5.4M397.3,215.6h5.4M400.0,212.9v5.4M387.9,217.5h5.4M390.6,214.8v5.4M408.7,235.7h5.4M411.4,233.0v5.4M386.7,222.9h5.4M389.4,220.2v5.4M344.5,220.2h5.4M347.2,217.5v5.4M388.7,226.9h5.4M391.4,224.2v5.4M357.8,212.5h5.4M360.5,209.8v5.4M331.6,218.2h5.4M334.3,215.5v5.4M342.2,202.3h5.4M344.9,199.6v5.4M374.2,224.7h5.4M376.9,222.0v5.4M411.2,247.9h5.4M413.9,245.2v5.4M346.9,201.2h5.4M349.6,198.5v5.4M377.8,227.6h5.4M380.5,224.9v5.4M329.7,215.0h5.4M332.4,212.3v5.4M380.8,229.7h5.4M383.5,227.0v5.4M345.5,209.2h5.4M348.2,206.5v5.4M329.3,195.2h5.4M332.0,192.5v5.4M390.7,195.0h5.4M393.4,192.3v5.4M364.0,210.9h5.4M366.7,208.2v5.4M339.5,209.4h5.4M342.2,206.7v5.4M412.2,195.9h5.4M414.9,193.2v5.4M424.4,223.1h5.4M427.1,220.4v5.4M398.9,203.3h5.4M401.6,200.6v5.4M407.2,208.4h5.4M409.9,205.7v5.4M352.0,222.3h5.4M354.7,219.6v5.4M424.8,211.0h5.4M427.5,208.3v5.4M352.0,198.6h5.4M354.7,195.9v5.4M347.2,242.4h5.4M349.9,239.7v5.4M346.3,193.4h5.4M349.0,190.7v5.4M419.8,243.7h5.4M422.5,241.0v5.4M364.3,224.6h5.4M367.0,221.9v5.4M416.5,245.1h5.4M419.2,242.4v5.4M354.5,205.7h5.4M357.2,203.0v5.4M387.9,203.2h5.4M390.6,200.5v5.4M382.5,222.7h5.4M385.2,220.0v5.4M373.3,197.5h5.4M376.0,194.8v5.4M401.8,225.2h5.4M404.5,222.5v5.4M381.1,225.1h5.4M383.8,222.4v5.4M339.9,225.5h5.4M342.6,222.8v5.4M373.6,229.3h5.4M376.3,226.6v5.4M380.5,235.3h5.4M383.2,232.6v5.4M382.6,219.4h5.4M385.3,216.7v5.4M400.9,232.9h5.4M403.6,230.2v5.4M417.6,255.6h5.4M420.3,252.9v5.4M428.3,245.6h5.4M431.0,242.9v5.4M372.5,222.2h5.4M375.2,219.5v5.4M339.8,203.7h5.4M342.5,201.0v5.4M407.2,204.0h5.4M409.9,201.3v5.4M386.4,235.8h5.4M389.1,233.1v5.4M353.1,192.1h5.4M355.8,189.4v5.4M334.3,198.9h5.4M337.0,196.2v5.4M359.8,240.2h5.4M362.5,237.5v5.4M379.3,197.2h5.4M382.0,194.5v5.4M331.1,202.5h5.4M333.8,199.8v5.4M376.8,253.2h5.4M379.5,250.5v5.4M411.2,216.0h5.4M413.9,213.3v5.4M412.8,213.1h5.4M415.5,210.4v5.4M398.1,256.7h5.4M400.8,254.0v5.4M369.8,209.7h5.4M372.5,207.0v5.4M354.9,196.1h5.4M357.6,193.4v5.4M357.5,201.9h5.4M360.2,199.2v5.4M360.3,210.4h5.4M363.0,207.7v5.4M367.5,219.1h5.4M370.2,216.4v5.4M349.4,221.4h5.4M352.1,218.7v5.4M333.5,185.7h5.4M336.2,183.0v5.4M352.6,227.3h5.4M355.3,224.6v5.4M417.2,212.8h5.4M419.9,210.1v5.4M402.7,244.1h5.4M405.4,241.4v5.4M352.3,186.3h5.4M355.0,183.6v5.4M385.2,230.5h5.4M387.9,227.8v5.4M397.4,220.2h5.4M400.1,217.5v5.4M382.8,232.8h5.4M385.5,230.1v5.4M403.0,202.7h5.4M405.7,200.0v5.4M355.9,238.0h5.4M358.6,235.3v5.4M337.0,194.9h5.4M339.7,192.2v5.4M330.5,188.5h5.4M333.2,185.8v5.4M358.4,222.2h5.4M361.1,219.5v5.4M426.1,217.3h5.4M428.8,214.6v5.4M350.3,254.0h5.4M353.0,251.3v5.4M381.7,254.5h5.4M384.4,251.8v5.4M359.5,194.4h5.4M362.2,191.7v5.4M360.9,246.2h5.4M363.6,243.5v5.4M372.1,204.4h5.4M374.8,201.7v5.4M339.5,245.8h5.4M342.2,243.1v5.4M422.9,202.5h5.4M425.6,199.8v5.4M473.3,249.4h5.4M476.0,246.7v5.4M466.7,230.7h5.4M469.4,228.0v5.4M471.3,253.6h5.4M474.0,250.9v5.4M431.6,238.2h5.4M434.3,235.5v5.4M344.3,171.8h5.4M347.0,169.1v5.4M356.2,167.4h5.4M358.9,164.7v5.4M351.6,176.4h5.4M354.3,173.7v5.4M353.8,173.9h5.4M356.5,171.2v5.4M359.0,164.2h5.4M361.7,161.5v5.4M346.2,165.2h5.4M348.9,162.5v5.4M349.4,182.7h5.4M352.1,180.0v5.4M392.1,171.2h5.4M394.8,168.5v5.4M397.2,168.8h5.4M399.9,166.1v5.4M406.7,173.3h5.4M409.4,170.6v5.4M410.6,172.5h5.4M413.3,169.8v5.4M404.1,166.2h5.4M406.8,163.5v5.4M402.0,184.4h5.4M404.7,181.7v5.4M396.7,175.1h5.4M399.4,172.4v5.4M414.3,182.3h5.4M417.0,179.6v5.4M438.1,195.8h5.4M440.8,193.1v5.4M439.7,201.0h5.4M442.4,198.3v5.4M469.7,219.9h5.4M472.4,217.2v5.4M462.8,220.8h5.4M465.5,218.1v5.4M451.0,208.5h5.4M453.7,205.8v5.4M427.3,200.7h5.4M430.0,198.0v5.4M473.6,218.0h5.4M476.3,215.3v5.4M470.1,223.9h5.4M472.8,221.2v5.4M435.0,205.9h5.4M437.7,203.2v5.4" fill="none" stroke="#000" stroke-width="2.1"/></g>
<rect x="38.00" y="78.3" width="545.60" height="340.10" fill="none" stroke="#262626" stroke-width="2.7"/>
<rect x="739.30" y="78.3" width="545.60" height="340.10" fill="none" stroke="#262626" stroke-width="2.7"/>
<rect x="596.40" y="146.60" width="17.10" height="202.60" fill="url(#pg)" stroke="#262626" stroke-width="2.4"/>
<line x1="610.30" x2="612.50" y1="162.10" y2="162.10" stroke="#262626" stroke-width="1.6"/>
<text x="624.60" y="170.60" font-size="24" fill="#262626">140</text>
<line x1="610.30" x2="612.50" y1="196.75" y2="196.75" stroke="#262626" stroke-width="1.6"/>
<text x="624.60" y="205.25" font-size="24" fill="#262626">130</text>
<line x1="610.30" x2="612.50" y1="231.40" y2="231.40" stroke="#262626" stroke-width="1.6"/>
<text x="624.60" y="239.90" font-size="24" fill="#262626">120</text>
<line x1="610.30" x2="612.50" y1="266.05" y2="266.05" stroke="#262626" stroke-width="1.6"/>
<text x="624.60" y="274.55" font-size="24" fill="#262626">110</text>
<line x1="610.30" x2="612.50" y1="300.70" y2="300.70" stroke="#262626" stroke-width="1.6"/>
<text x="624.60" y="309.20" font-size="24" fill="#262626">100</text>
<line x1="610.30" x2="612.50" y1="335.35" y2="335.35" stroke="#262626" stroke-width="1.6"/>
<text x="624.60" y="343.85" font-size="24" fill="#262626">90</text>
<text transform="translate(699.80,249.2) rotate(-90)" text-anchor="middle" font-size="34" fill="#262626">day of year</text>
<rect x="1297.70" y="146.60" width="17.10" height="202.60" fill="url(#pg)" stroke="#262626" stroke-width="2.4"/>
<line x1="1311.60" x2="1313.80" y1="187.00" y2="187.00" stroke="#262626" stroke-width="1.6"/>
<text x="1325.90" y="195.50" font-size="24" fill="#262626">300</text>
<line x1="1311.60" x2="1313.80" y1="229.50" y2="229.50" stroke="#262626" stroke-width="1.6"/>
<text x="1325.90" y="238.00" font-size="24" fill="#262626">290</text>
<line x1="1311.60" x2="1313.80" y1="272.00" y2="272.00" stroke="#262626" stroke-width="1.6"/>
<text x="1325.90" y="280.50" font-size="24" fill="#262626">280</text>
<line x1="1311.60" x2="1313.80" y1="314.50" y2="314.50" stroke="#262626" stroke-width="1.6"/>
<text x="1325.90" y="323.00" font-size="24" fill="#262626">270</text>
<text transform="translate(1401.10,249.2) rotate(-90)" text-anchor="middle" font-size="34" fill="#262626">day of year</text>
<text x="310.7" y="63.6" text-anchor="middle" font-size="31" font-weight="bold" fill="#000">spring</text>
<text x="1012.00" y="63.6" text-anchor="middle" font-size="30.5" font-weight="bold" fill="#000">fall</text>
<text x="65.5" y="395.1" font-size="38.5" font-weight="bold" fill="#000">a.</text>
<text x="766.80" y="395.1" font-size="38.5" font-weight="bold" fill="#000">b.</text>
</svg>
</body></html>
